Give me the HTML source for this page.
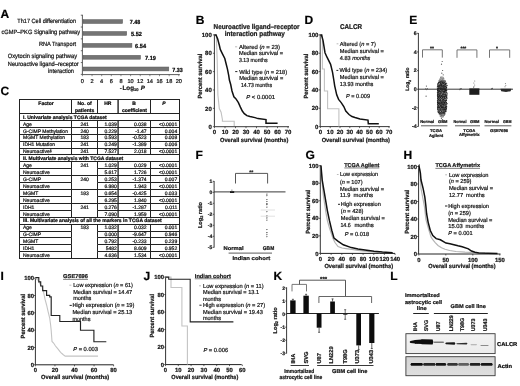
<!DOCTYPE html>
<html><head><meta charset="utf-8"><title>Figure</title>
<style>
html,body{margin:0;padding:0;background:#fff;}
body{width:520px;height:386px;overflow:hidden;}
svg{display:block;font-family:"Liberation Sans",Arial,Helvetica,sans-serif;}
text{stroke:#111;stroke-width:0.22px;text-rendering:geometricPrecision;}
</style></head><body>
<svg width="520" height="386" viewBox="0 0 520 386">
<rect x="0" y="0" width="520" height="386" fill="#fff"/>
<text x="0.60" y="18.30" font-size="12.0" font-weight="bold">A</text>
<text x="17.30" y="22.60" font-size="6.2" textLength="58.70" lengthAdjust="spacingAndGlyphs" fill="#1a1a1a">Th17 Cell differentiation</text>
<text x="1.40" y="34.20" font-size="6.2" textLength="78.60" lengthAdjust="spacingAndGlyphs" fill="#1a1a1a">cGMP–PKG Signaling pathway</text>
<text x="38.90" y="45.60" font-size="6.2" textLength="37.20" lengthAdjust="spacingAndGlyphs" fill="#1a1a1a">RNA Transport</text>
<text x="7.80" y="57.90" font-size="6.2" textLength="69.20" lengthAdjust="spacingAndGlyphs" fill="#1a1a1a">Oxytocin signaling pathway</text>
<text x="7.80" y="66.30" font-size="6.2" textLength="70.90" lengthAdjust="spacingAndGlyphs" fill="#1a1a1a">Neuroactive ligand–receptor</text>
<text x="48.10" y="73.20" font-size="6.2" textLength="25.90" lengthAdjust="spacingAndGlyphs" fill="#1a1a1a">interaction</text>
<line x1="82.40" y1="14.80" x2="82.40" y2="74.60" stroke="#333" stroke-width="0.8"/>
<line x1="80.80" y1="15.20" x2="82.40" y2="15.20" stroke="#333" stroke-width="0.7"/>
<line x1="80.80" y1="27.04" x2="82.40" y2="27.04" stroke="#333" stroke-width="0.7"/>
<line x1="80.80" y1="38.88" x2="82.40" y2="38.88" stroke="#333" stroke-width="0.7"/>
<line x1="80.80" y1="50.72" x2="82.40" y2="50.72" stroke="#333" stroke-width="0.7"/>
<line x1="80.80" y1="62.56" x2="82.40" y2="62.56" stroke="#333" stroke-width="0.7"/>
<line x1="80.80" y1="74.40" x2="82.40" y2="74.40" stroke="#333" stroke-width="0.7"/>
<line x1="82.40" y1="74.60" x2="179.80" y2="74.60" stroke="#333" stroke-width="0.8"/>
<rect x="83.00" y="19.60" width="39.60" height="3.90" fill="#747474" stroke="#5a5a5a" stroke-width="0.5"/>
<text x="129.70" y="24.12" font-size="5.9" font-weight="bold" textLength="10.50" lengthAdjust="spacingAndGlyphs">7.48</text>
<rect x="83.00" y="31.50" width="43.70" height="3.90" fill="#747474" stroke="#5a5a5a" stroke-width="0.5"/>
<text x="131.00" y="36.02" font-size="5.9" font-weight="bold" textLength="10.90" lengthAdjust="spacingAndGlyphs">5.52</text>
<rect x="83.00" y="43.40" width="48.90" height="3.90" fill="#747474" stroke="#5a5a5a" stroke-width="0.5"/>
<text x="135.10" y="47.62" font-size="5.9" font-weight="bold" textLength="10.90" lengthAdjust="spacingAndGlyphs">6.54</text>
<rect x="83.00" y="55.30" width="57.50" height="3.90" fill="#747474" stroke="#5a5a5a" stroke-width="0.5"/>
<text x="145.00" y="59.72" font-size="5.9" font-weight="bold" textLength="10.90" lengthAdjust="spacingAndGlyphs">7.19</text>
<rect x="83.00" y="67.00" width="85.80" height="3.90" fill="#747474" stroke="#5a5a5a" stroke-width="0.5"/>
<text x="172.20" y="71.62" font-size="5.9" font-weight="bold" textLength="10.50" lengthAdjust="spacingAndGlyphs">7.33</text>
<line x1="82.40" y1="74.60" x2="82.40" y2="76.20" stroke="#444" stroke-width="0.6"/>
<text x="82.40" y="83.22" font-size="5.6" text-anchor="middle" fill="#1a1a1a">0</text>
<line x1="92.04" y1="74.60" x2="92.04" y2="76.20" stroke="#444" stroke-width="0.6"/>
<text x="92.04" y="83.22" font-size="5.6" text-anchor="middle" fill="#1a1a1a">2</text>
<line x1="101.68" y1="74.60" x2="101.68" y2="76.20" stroke="#444" stroke-width="0.6"/>
<text x="101.68" y="83.22" font-size="5.6" text-anchor="middle" fill="#1a1a1a">4</text>
<line x1="111.32" y1="74.60" x2="111.32" y2="76.20" stroke="#444" stroke-width="0.6"/>
<text x="111.32" y="83.22" font-size="5.6" text-anchor="middle" fill="#1a1a1a">6</text>
<line x1="120.96" y1="74.60" x2="120.96" y2="76.20" stroke="#444" stroke-width="0.6"/>
<text x="120.96" y="83.22" font-size="5.6" text-anchor="middle" fill="#1a1a1a">8</text>
<line x1="130.60" y1="74.60" x2="130.60" y2="76.20" stroke="#444" stroke-width="0.6"/>
<text x="130.60" y="83.22" font-size="5.6" text-anchor="middle" fill="#1a1a1a">10</text>
<line x1="140.24" y1="74.60" x2="140.24" y2="76.20" stroke="#444" stroke-width="0.6"/>
<text x="140.24" y="83.22" font-size="5.6" text-anchor="middle" fill="#1a1a1a">12</text>
<line x1="149.88" y1="74.60" x2="149.88" y2="76.20" stroke="#444" stroke-width="0.6"/>
<text x="149.88" y="83.22" font-size="5.6" text-anchor="middle" fill="#1a1a1a">14</text>
<line x1="159.52" y1="74.60" x2="159.52" y2="76.20" stroke="#444" stroke-width="0.6"/>
<text x="159.52" y="83.22" font-size="5.6" text-anchor="middle" fill="#1a1a1a">16</text>
<line x1="169.16" y1="74.60" x2="169.16" y2="76.20" stroke="#444" stroke-width="0.6"/>
<text x="169.16" y="83.22" font-size="5.6" text-anchor="middle" fill="#1a1a1a">18</text>
<line x1="178.80" y1="74.60" x2="178.80" y2="76.20" stroke="#444" stroke-width="0.6"/>
<text x="178.80" y="83.22" font-size="5.6" text-anchor="middle" fill="#1a1a1a">20</text>
<text x="119.8" y="89.6" font-size="6.3" font-weight="bold" fill="#1a1a1a">-<tspan dx="0.6">Log</tspan><tspan font-size="4.0" dy="1.5">10</tspan><tspan dy="-1.5" dx="0.4" font-style="italic"> P</tspan></text>
<text x="0.60" y="94.80" font-size="12.0" font-weight="bold">C</text>
<text x="46.00" y="105.00" font-size="5.0" font-weight="bold" text-anchor="middle">Factor</text>
<text x="84.60" y="105.20" font-size="5.0" font-weight="bold" text-anchor="middle">No. of</text>
<text x="84.60" y="112.00" font-size="5.0" font-weight="bold" text-anchor="middle">patients</text>
<text x="107.80" y="105.20" font-size="5.0" font-weight="bold" text-anchor="middle">HR</text>
<text x="134.00" y="105.20" font-size="5.0" font-weight="bold" text-anchor="middle">B</text>
<text x="134.50" y="112.00" font-size="5.0" font-weight="bold" text-anchor="middle">coefficient</text>
<text x="164.00" y="105.20" font-size="5.0" font-weight="bold" font-style="italic" text-anchor="middle">P</text>
<line x1="19.00" y1="99.50" x2="180.00" y2="99.50" stroke="#222" stroke-width="1.2"/>
<line x1="19.00" y1="258.50" x2="180.00" y2="258.50" stroke="#222" stroke-width="1.1"/>
<line x1="19.50" y1="99.50" x2="19.50" y2="258.50" stroke="#222" stroke-width="1.0"/>
<line x1="179.50" y1="99.50" x2="179.50" y2="258.50" stroke="#222" stroke-width="1.0"/>
<line x1="19.50" y1="113.50" x2="179.50" y2="113.50" stroke="#222" stroke-width="1.1"/>
<line x1="71.50" y1="99.50" x2="71.50" y2="113.50" stroke="#222" stroke-width="1.0"/>
<line x1="97.50" y1="99.50" x2="97.50" y2="113.50" stroke="#222" stroke-width="1.0"/>
<line x1="118.10" y1="99.50" x2="118.10" y2="113.50" stroke="#222" stroke-width="1.4"/>
<line x1="150.50" y1="99.50" x2="150.50" y2="113.50" stroke="#222" stroke-width="1.0"/>
<line x1="19.50" y1="120.50" x2="179.50" y2="120.50" stroke="#222" stroke-width="1.0"/>
<text x="23.00" y="118.70" font-size="5.0" font-weight="bold">I. Univariate analysis TCGA dataset</text>
<line x1="19.50" y1="127.50" x2="179.50" y2="127.50" stroke="#222" stroke-width="1.0"/>
<line x1="71.50" y1="120.50" x2="71.50" y2="127.50" stroke="#222" stroke-width="1.0"/>
<line x1="97.50" y1="120.50" x2="97.50" y2="127.50" stroke="#222" stroke-width="1.0"/>
<line x1="118.10" y1="120.50" x2="118.10" y2="127.50" stroke="#222" stroke-width="1.3"/>
<line x1="150.50" y1="120.50" x2="150.50" y2="127.50" stroke="#222" stroke-width="1.0"/>
<text x="23.00" y="125.61" font-size="5.0" fill="#1a1a1a">Age</text>
<text x="84.60" y="125.61" font-size="5.0" text-anchor="middle" fill="#1a1a1a">241</text>
<text x="116.90" y="125.61" font-size="5.0" text-anchor="end" fill="#1a1a1a">1.039</text>
<text x="146.60" y="125.61" font-size="5.0" text-anchor="end" fill="#1a1a1a">0.038</text>
<text x="177.20" y="125.61" font-size="5.0" text-anchor="end" fill="#1a1a1a">&lt;0.0001</text>
<line x1="19.50" y1="134.50" x2="179.50" y2="134.50" stroke="#222" stroke-width="1.0"/>
<line x1="71.50" y1="127.50" x2="71.50" y2="134.50" stroke="#222" stroke-width="1.0"/>
<line x1="97.50" y1="127.50" x2="97.50" y2="134.50" stroke="#222" stroke-width="1.0"/>
<line x1="118.10" y1="127.50" x2="118.10" y2="134.50" stroke="#222" stroke-width="1.3"/>
<line x1="150.50" y1="127.50" x2="150.50" y2="134.50" stroke="#222" stroke-width="1.0"/>
<text x="23.00" y="132.53" font-size="5.0" fill="#1a1a1a">G-CIMP Methylation</text>
<text x="84.60" y="132.53" font-size="5.0" text-anchor="middle" fill="#1a1a1a">240</text>
<text x="116.90" y="132.53" font-size="5.0" text-anchor="end" fill="#1a1a1a">0.229</text>
<text x="146.60" y="132.53" font-size="5.0" text-anchor="end" fill="#1a1a1a">-1.47</text>
<text x="177.20" y="132.53" font-size="5.0" text-anchor="end" fill="#1a1a1a">0.004</text>
<line x1="19.50" y1="141.50" x2="179.50" y2="141.50" stroke="#222" stroke-width="1.0"/>
<line x1="71.50" y1="134.50" x2="71.50" y2="141.50" stroke="#222" stroke-width="1.0"/>
<line x1="97.50" y1="134.50" x2="97.50" y2="141.50" stroke="#222" stroke-width="1.0"/>
<line x1="118.10" y1="134.50" x2="118.10" y2="141.50" stroke="#222" stroke-width="1.3"/>
<line x1="150.50" y1="134.50" x2="150.50" y2="141.50" stroke="#222" stroke-width="1.0"/>
<text x="23.00" y="139.44" font-size="5.0" fill="#1a1a1a">MGMT Methylation</text>
<text x="84.60" y="139.44" font-size="5.0" text-anchor="middle" fill="#1a1a1a">183</text>
<text x="116.90" y="139.44" font-size="5.0" text-anchor="end" fill="#1a1a1a">0.593</text>
<text x="146.60" y="139.44" font-size="5.0" text-anchor="end" fill="#1a1a1a">-0.523</text>
<text x="177.20" y="139.44" font-size="5.0" text-anchor="end" fill="#1a1a1a">0.008</text>
<line x1="19.50" y1="148.50" x2="179.50" y2="148.50" stroke="#222" stroke-width="1.0"/>
<line x1="71.50" y1="141.50" x2="71.50" y2="148.50" stroke="#222" stroke-width="1.0"/>
<line x1="97.50" y1="141.50" x2="97.50" y2="148.50" stroke="#222" stroke-width="1.0"/>
<line x1="118.10" y1="141.50" x2="118.10" y2="148.50" stroke="#222" stroke-width="1.3"/>
<line x1="150.50" y1="141.50" x2="150.50" y2="148.50" stroke="#222" stroke-width="1.0"/>
<text x="23.00" y="146.36" font-size="5.0" fill="#1a1a1a">IDH1 Mutation</text>
<text x="84.60" y="146.36" font-size="5.0" text-anchor="middle" fill="#1a1a1a">241</text>
<text x="116.90" y="146.36" font-size="5.0" text-anchor="end" fill="#1a1a1a">0.249</text>
<text x="146.60" y="146.36" font-size="5.0" text-anchor="end" fill="#1a1a1a">-1.389</text>
<text x="177.20" y="146.36" font-size="5.0" text-anchor="end" fill="#1a1a1a">0.006</text>
<line x1="19.50" y1="154.50" x2="179.50" y2="154.50" stroke="#222" stroke-width="1.0"/>
<line x1="71.50" y1="148.50" x2="71.50" y2="154.50" stroke="#222" stroke-width="1.0"/>
<line x1="97.50" y1="148.50" x2="97.50" y2="154.50" stroke="#222" stroke-width="1.0"/>
<line x1="118.10" y1="148.50" x2="118.10" y2="154.50" stroke="#222" stroke-width="1.3"/>
<line x1="150.50" y1="148.50" x2="150.50" y2="154.50" stroke="#222" stroke-width="1.0"/>
<text x="23.00" y="153.27" font-size="5.0" fill="#1a1a1a">Neuroactive<tspan font-size="3.4" dy="-1.5">§</tspan></text>
<text x="84.60" y="153.27" font-size="5.0" text-anchor="middle" fill="#1a1a1a">241</text>
<text x="116.90" y="153.27" font-size="5.0" text-anchor="end" fill="#1a1a1a">7.527</text>
<text x="146.60" y="153.27" font-size="5.0" text-anchor="end" fill="#1a1a1a">2.018</text>
<text x="177.20" y="153.27" font-size="5.0" text-anchor="end" fill="#1a1a1a">&lt;0.0001</text>
<line x1="19.50" y1="161.50" x2="179.50" y2="161.50" stroke="#222" stroke-width="1.0"/>
<text x="23.00" y="160.19" font-size="5.0" font-weight="bold">II. Multivariate analysis with TCGA dataset</text>
<line x1="19.50" y1="168.50" x2="71.50" y2="168.50" stroke="#222" stroke-width="1.0"/>
<line x1="97.50" y1="168.50" x2="179.50" y2="168.50" stroke="#222" stroke-width="1.0"/>
<line x1="71.50" y1="161.50" x2="71.50" y2="168.50" stroke="#222" stroke-width="1.0"/>
<line x1="97.50" y1="161.50" x2="97.50" y2="168.50" stroke="#222" stroke-width="1.0"/>
<line x1="118.10" y1="161.50" x2="118.10" y2="168.50" stroke="#222" stroke-width="1.3"/>
<line x1="150.50" y1="161.50" x2="150.50" y2="168.50" stroke="#222" stroke-width="1.0"/>
<text x="23.00" y="167.10" font-size="5.0" fill="#1a1a1a">Age</text>
<text x="84.60" y="167.10" font-size="5.0" text-anchor="middle" fill="#1a1a1a">241</text>
<text x="116.90" y="167.10" font-size="5.0" text-anchor="end" fill="#1a1a1a">1.029</text>
<text x="146.60" y="167.10" font-size="5.0" text-anchor="end" fill="#1a1a1a">0.029</text>
<text x="177.20" y="167.10" font-size="5.0" text-anchor="end" fill="#1a1a1a">&lt;0.0001</text>
<line x1="19.50" y1="175.50" x2="179.50" y2="175.50" stroke="#222" stroke-width="1.0"/>
<line x1="71.50" y1="168.50" x2="71.50" y2="175.50" stroke="#222" stroke-width="1.0"/>
<line x1="97.50" y1="168.50" x2="97.50" y2="175.50" stroke="#222" stroke-width="1.0"/>
<line x1="118.10" y1="168.50" x2="118.10" y2="175.50" stroke="#222" stroke-width="1.3"/>
<line x1="150.50" y1="168.50" x2="150.50" y2="175.50" stroke="#222" stroke-width="1.0"/>
<text x="23.00" y="174.01" font-size="5.0" fill="#1a1a1a">Neuroactive</text>
<text x="116.90" y="174.01" font-size="5.0" text-anchor="end" fill="#1a1a1a">5.617</text>
<text x="146.60" y="174.01" font-size="5.0" text-anchor="end" fill="#1a1a1a">1.726</text>
<text x="177.20" y="174.01" font-size="5.0" text-anchor="end" fill="#1a1a1a">&lt;0.0001</text>
<line x1="19.50" y1="182.50" x2="71.50" y2="182.50" stroke="#222" stroke-width="1.0"/>
<line x1="97.50" y1="182.50" x2="179.50" y2="182.50" stroke="#222" stroke-width="1.0"/>
<line x1="71.50" y1="175.50" x2="71.50" y2="182.50" stroke="#222" stroke-width="1.0"/>
<line x1="97.50" y1="175.50" x2="97.50" y2="182.50" stroke="#222" stroke-width="1.0"/>
<line x1="118.10" y1="175.50" x2="118.10" y2="182.50" stroke="#222" stroke-width="1.3"/>
<line x1="150.50" y1="175.50" x2="150.50" y2="182.50" stroke="#222" stroke-width="1.0"/>
<text x="23.00" y="180.93" font-size="5.0" fill="#1a1a1a">G-CIMP</text>
<text x="84.60" y="180.93" font-size="5.0" text-anchor="middle" fill="#1a1a1a">240</text>
<text x="116.90" y="180.93" font-size="5.0" text-anchor="end" fill="#1a1a1a">0.253</text>
<text x="146.60" y="180.93" font-size="5.0" text-anchor="end" fill="#1a1a1a">-1.374</text>
<text x="177.20" y="180.93" font-size="5.0" text-anchor="end" fill="#1a1a1a">0.007</text>
<line x1="19.50" y1="189.50" x2="179.50" y2="189.50" stroke="#222" stroke-width="1.0"/>
<line x1="71.50" y1="182.50" x2="71.50" y2="189.50" stroke="#222" stroke-width="1.0"/>
<line x1="97.50" y1="182.50" x2="97.50" y2="189.50" stroke="#222" stroke-width="1.0"/>
<line x1="118.10" y1="182.50" x2="118.10" y2="189.50" stroke="#222" stroke-width="1.3"/>
<line x1="150.50" y1="182.50" x2="150.50" y2="189.50" stroke="#222" stroke-width="1.0"/>
<text x="23.00" y="187.84" font-size="5.0" fill="#1a1a1a">Neuroactive</text>
<text x="116.90" y="187.84" font-size="5.0" text-anchor="end" fill="#1a1a1a">6.980</text>
<text x="146.60" y="187.84" font-size="5.0" text-anchor="end" fill="#1a1a1a">1.943</text>
<text x="177.20" y="187.84" font-size="5.0" text-anchor="end" fill="#1a1a1a">&lt;0.0001</text>
<line x1="19.50" y1="196.50" x2="71.50" y2="196.50" stroke="#222" stroke-width="1.0"/>
<line x1="97.50" y1="196.50" x2="179.50" y2="196.50" stroke="#222" stroke-width="1.0"/>
<line x1="71.50" y1="189.50" x2="71.50" y2="196.50" stroke="#222" stroke-width="1.0"/>
<line x1="97.50" y1="189.50" x2="97.50" y2="196.50" stroke="#222" stroke-width="1.0"/>
<line x1="118.10" y1="189.50" x2="118.10" y2="196.50" stroke="#222" stroke-width="1.3"/>
<line x1="150.50" y1="189.50" x2="150.50" y2="196.50" stroke="#222" stroke-width="1.0"/>
<text x="23.00" y="194.76" font-size="5.0" fill="#1a1a1a">MGMT</text>
<text x="84.60" y="194.76" font-size="5.0" text-anchor="middle" fill="#1a1a1a">183</text>
<text x="116.90" y="194.76" font-size="5.0" text-anchor="end" fill="#1a1a1a">0.654</text>
<text x="146.60" y="194.76" font-size="5.0" text-anchor="end" fill="#1a1a1a">-0.425</text>
<text x="177.20" y="194.76" font-size="5.0" text-anchor="end" fill="#1a1a1a">0.033</text>
<line x1="19.50" y1="203.50" x2="179.50" y2="203.50" stroke="#222" stroke-width="1.0"/>
<line x1="71.50" y1="196.50" x2="71.50" y2="203.50" stroke="#222" stroke-width="1.0"/>
<line x1="97.50" y1="196.50" x2="97.50" y2="203.50" stroke="#222" stroke-width="1.0"/>
<line x1="118.10" y1="196.50" x2="118.10" y2="203.50" stroke="#222" stroke-width="1.3"/>
<line x1="150.50" y1="196.50" x2="150.50" y2="203.50" stroke="#222" stroke-width="1.0"/>
<text x="23.00" y="201.67" font-size="5.0" fill="#1a1a1a">Neuroactive</text>
<text x="116.90" y="201.67" font-size="5.0" text-anchor="end" fill="#1a1a1a">6.295</text>
<text x="146.60" y="201.67" font-size="5.0" text-anchor="end" fill="#1a1a1a">1.840</text>
<text x="177.20" y="201.67" font-size="5.0" text-anchor="end" fill="#1a1a1a">&lt;0.0001</text>
<line x1="19.50" y1="210.50" x2="71.50" y2="210.50" stroke="#222" stroke-width="1.0"/>
<line x1="97.50" y1="210.50" x2="179.50" y2="210.50" stroke="#222" stroke-width="1.0"/>
<line x1="71.50" y1="203.50" x2="71.50" y2="210.50" stroke="#222" stroke-width="1.0"/>
<line x1="97.50" y1="203.50" x2="97.50" y2="210.50" stroke="#222" stroke-width="1.0"/>
<line x1="118.10" y1="203.50" x2="118.10" y2="210.50" stroke="#222" stroke-width="1.3"/>
<line x1="150.50" y1="203.50" x2="150.50" y2="210.50" stroke="#222" stroke-width="1.0"/>
<text x="23.00" y="208.59" font-size="5.0" fill="#1a1a1a">IDH1</text>
<text x="84.60" y="208.59" font-size="5.0" text-anchor="middle" fill="#1a1a1a">241</text>
<text x="116.90" y="208.59" font-size="5.0" text-anchor="end" fill="#1a1a1a">0.276</text>
<text x="146.60" y="208.59" font-size="5.0" text-anchor="end" fill="#1a1a1a">-1.287</text>
<text x="177.20" y="208.59" font-size="5.0" text-anchor="end" fill="#1a1a1a">0.011</text>
<line x1="19.50" y1="217.50" x2="179.50" y2="217.50" stroke="#222" stroke-width="1.0"/>
<line x1="71.50" y1="210.50" x2="71.50" y2="217.50" stroke="#222" stroke-width="1.0"/>
<line x1="97.50" y1="210.50" x2="97.50" y2="217.50" stroke="#222" stroke-width="1.0"/>
<line x1="118.10" y1="210.50" x2="118.10" y2="217.50" stroke="#222" stroke-width="1.3"/>
<line x1="150.50" y1="210.50" x2="150.50" y2="217.50" stroke="#222" stroke-width="1.0"/>
<text x="23.00" y="215.50" font-size="5.0" fill="#1a1a1a">Neuroactive</text>
<text x="116.90" y="215.50" font-size="5.0" text-anchor="end" fill="#1a1a1a">7.090</text>
<text x="146.60" y="215.50" font-size="5.0" text-anchor="end" fill="#1a1a1a">1.959</text>
<text x="177.20" y="215.50" font-size="5.0" text-anchor="end" fill="#1a1a1a">&lt;0.0001</text>
<line x1="19.50" y1="224.50" x2="179.50" y2="224.50" stroke="#222" stroke-width="1.0"/>
<text x="23.00" y="222.41" font-size="5.0" font-weight="bold">III. Multivariate analysis of all the markers in TCGA dataset</text>
<line x1="19.50" y1="231.50" x2="71.50" y2="231.50" stroke="#222" stroke-width="1.0"/>
<line x1="97.50" y1="231.50" x2="179.50" y2="231.50" stroke="#222" stroke-width="1.0"/>
<line x1="71.50" y1="224.50" x2="71.50" y2="231.50" stroke="#222" stroke-width="1.0"/>
<line x1="97.50" y1="224.50" x2="97.50" y2="231.50" stroke="#222" stroke-width="1.0"/>
<line x1="118.10" y1="224.50" x2="118.10" y2="231.50" stroke="#222" stroke-width="1.3"/>
<line x1="150.50" y1="224.50" x2="150.50" y2="231.50" stroke="#222" stroke-width="1.0"/>
<text x="23.00" y="229.33" font-size="5.0" fill="#1a1a1a">Age</text>
<text x="84.60" y="229.33" font-size="5.0" text-anchor="middle" fill="#1a1a1a">183</text>
<text x="116.90" y="229.33" font-size="5.0" text-anchor="end" fill="#1a1a1a">1.032</text>
<text x="146.60" y="229.33" font-size="5.0" text-anchor="end" fill="#1a1a1a">0.032</text>
<text x="177.20" y="229.33" font-size="5.0" text-anchor="end" fill="#1a1a1a">0.001</text>
<line x1="19.50" y1="237.50" x2="71.50" y2="237.50" stroke="#222" stroke-width="1.0"/>
<line x1="97.50" y1="237.50" x2="179.50" y2="237.50" stroke="#222" stroke-width="1.0"/>
<line x1="71.50" y1="231.50" x2="71.50" y2="237.50" stroke="#222" stroke-width="1.0"/>
<line x1="97.50" y1="231.50" x2="97.50" y2="237.50" stroke="#222" stroke-width="1.0"/>
<line x1="118.10" y1="231.50" x2="118.10" y2="237.50" stroke="#222" stroke-width="1.3"/>
<line x1="150.50" y1="231.50" x2="150.50" y2="237.50" stroke="#222" stroke-width="1.0"/>
<text x="23.00" y="236.24" font-size="5.0" fill="#1a1a1a">G-CIMP</text>
<text x="116.90" y="236.24" font-size="5.0" text-anchor="end" fill="#1a1a1a">0.000</text>
<text x="146.60" y="236.24" font-size="5.0" text-anchor="end" fill="#1a1a1a">-9.647</text>
<text x="177.20" y="236.24" font-size="5.0" text-anchor="end" fill="#1a1a1a">0.946</text>
<line x1="19.50" y1="244.50" x2="71.50" y2="244.50" stroke="#222" stroke-width="1.0"/>
<line x1="97.50" y1="244.50" x2="179.50" y2="244.50" stroke="#222" stroke-width="1.0"/>
<line x1="71.50" y1="237.50" x2="71.50" y2="244.50" stroke="#222" stroke-width="1.0"/>
<line x1="97.50" y1="237.50" x2="97.50" y2="244.50" stroke="#222" stroke-width="1.0"/>
<line x1="118.10" y1="237.50" x2="118.10" y2="244.50" stroke="#222" stroke-width="1.3"/>
<line x1="150.50" y1="237.50" x2="150.50" y2="244.50" stroke="#222" stroke-width="1.0"/>
<text x="23.00" y="243.16" font-size="5.0" fill="#1a1a1a">MGMT</text>
<text x="116.90" y="243.16" font-size="5.0" text-anchor="end" fill="#1a1a1a">0.792</text>
<text x="146.60" y="243.16" font-size="5.0" text-anchor="end" fill="#1a1a1a">-0.233</text>
<text x="177.20" y="243.16" font-size="5.0" text-anchor="end" fill="#1a1a1a">0.239</text>
<line x1="19.50" y1="251.50" x2="71.50" y2="251.50" stroke="#222" stroke-width="1.0"/>
<line x1="97.50" y1="251.50" x2="179.50" y2="251.50" stroke="#222" stroke-width="1.0"/>
<line x1="71.50" y1="244.50" x2="71.50" y2="251.50" stroke="#222" stroke-width="1.0"/>
<line x1="97.50" y1="244.50" x2="97.50" y2="251.50" stroke="#222" stroke-width="1.0"/>
<line x1="118.10" y1="244.50" x2="118.10" y2="251.50" stroke="#222" stroke-width="1.3"/>
<line x1="150.50" y1="244.50" x2="150.50" y2="251.50" stroke="#222" stroke-width="1.0"/>
<text x="23.00" y="250.07" font-size="5.0" fill="#1a1a1a">IDH1</text>
<text x="116.90" y="250.07" font-size="5.0" text-anchor="end" fill="#1a1a1a">5482</text>
<text x="146.60" y="250.07" font-size="5.0" text-anchor="end" fill="#1a1a1a">8.609</text>
<text x="177.20" y="250.07" font-size="5.0" text-anchor="end" fill="#1a1a1a">0.952</text>
<line x1="71.50" y1="251.50" x2="71.50" y2="258.50" stroke="#222" stroke-width="1.0"/>
<line x1="97.50" y1="251.50" x2="97.50" y2="258.50" stroke="#222" stroke-width="1.0"/>
<line x1="118.10" y1="251.50" x2="118.10" y2="258.50" stroke="#222" stroke-width="1.3"/>
<line x1="150.50" y1="251.50" x2="150.50" y2="258.50" stroke="#222" stroke-width="1.0"/>
<text x="23.00" y="256.99" font-size="5.0" fill="#1a1a1a">Neuroactive</text>
<text x="116.90" y="256.99" font-size="5.0" text-anchor="end" fill="#1a1a1a">4.636</text>
<text x="146.60" y="256.99" font-size="5.0" text-anchor="end" fill="#1a1a1a">1.534</text>
<text x="177.20" y="256.99" font-size="5.0" text-anchor="end" fill="#1a1a1a">&lt;0.0001</text>
<text x="195.80" y="23.90" font-size="12.0" font-weight="bold">B</text>
<text x="213.60" y="28.60" font-size="7.0" font-weight="bold" textLength="86.00" lengthAdjust="spacingAndGlyphs" fill="#1a1a1a">Neuroactive ligand–receptor</text>
<text x="224.80" y="36.40" font-size="7.0" font-weight="bold" textLength="60.00" lengthAdjust="spacingAndGlyphs" fill="#1a1a1a">interaction pathway</text>
<line x1="214.40" y1="34.40" x2="214.40" y2="126.70" stroke="#222" stroke-width="0.9"/>
<line x1="212.90" y1="34.90" x2="214.40" y2="34.90" stroke="#222" stroke-width="0.7"/>
<text x="211.80" y="37.06" font-size="6.0" font-weight="bold" text-anchor="end" fill="#1a1a1a">100</text>
<line x1="212.90" y1="53.26" x2="214.40" y2="53.26" stroke="#222" stroke-width="0.7"/>
<text x="211.80" y="55.42" font-size="6.0" font-weight="bold" text-anchor="end" fill="#1a1a1a">80</text>
<line x1="212.90" y1="71.62" x2="214.40" y2="71.62" stroke="#222" stroke-width="0.7"/>
<text x="211.80" y="73.78" font-size="6.0" font-weight="bold" text-anchor="end" fill="#1a1a1a">60</text>
<line x1="212.90" y1="89.98" x2="214.40" y2="89.98" stroke="#222" stroke-width="0.7"/>
<text x="211.80" y="92.14" font-size="6.0" font-weight="bold" text-anchor="end" fill="#1a1a1a">40</text>
<line x1="212.90" y1="108.34" x2="214.40" y2="108.34" stroke="#222" stroke-width="0.7"/>
<text x="211.80" y="110.50" font-size="6.0" font-weight="bold" text-anchor="end" fill="#1a1a1a">20</text>
<line x1="212.90" y1="126.70" x2="214.40" y2="126.70" stroke="#222" stroke-width="0.7"/>
<text x="211.80" y="128.86" font-size="6.0" font-weight="bold" text-anchor="end" fill="#1a1a1a">0</text>
<line x1="214.40" y1="126.70" x2="289.00" y2="126.70" stroke="#222" stroke-width="0.9"/>
<line x1="214.50" y1="126.70" x2="214.50" y2="128.20" stroke="#222" stroke-width="0.7"/>
<text x="214.50" y="133.96" font-size="6.0" font-weight="bold" text-anchor="middle" fill="#1a1a1a">0</text>
<line x1="225.00" y1="126.70" x2="225.00" y2="128.20" stroke="#222" stroke-width="0.7"/>
<text x="225.00" y="133.96" font-size="6.0" font-weight="bold" text-anchor="middle" fill="#1a1a1a">10</text>
<line x1="235.50" y1="126.70" x2="235.50" y2="128.20" stroke="#222" stroke-width="0.7"/>
<text x="235.50" y="133.96" font-size="6.0" font-weight="bold" text-anchor="middle" fill="#1a1a1a">20</text>
<line x1="246.00" y1="126.70" x2="246.00" y2="128.20" stroke="#222" stroke-width="0.7"/>
<text x="246.00" y="133.96" font-size="6.0" font-weight="bold" text-anchor="middle" fill="#1a1a1a">30</text>
<line x1="256.50" y1="126.70" x2="256.50" y2="128.20" stroke="#222" stroke-width="0.7"/>
<text x="256.50" y="133.96" font-size="6.0" font-weight="bold" text-anchor="middle" fill="#1a1a1a">40</text>
<line x1="267.00" y1="126.70" x2="267.00" y2="128.20" stroke="#222" stroke-width="0.7"/>
<text x="267.00" y="133.96" font-size="6.0" font-weight="bold" text-anchor="middle" fill="#1a1a1a">50</text>
<line x1="277.50" y1="126.70" x2="277.50" y2="128.20" stroke="#222" stroke-width="0.7"/>
<text x="277.50" y="133.96" font-size="6.0" font-weight="bold" text-anchor="middle" fill="#1a1a1a">60</text>
<line x1="288.00" y1="126.70" x2="288.00" y2="128.20" stroke="#222" stroke-width="0.7"/>
<text x="288.00" y="133.96" font-size="6.0" font-weight="bold" text-anchor="middle" fill="#1a1a1a">70</text>
<text x="202.40" y="98.60" font-size="6.0" font-weight="bold" textLength="45.00" lengthAdjust="spacingAndGlyphs" fill="#1a1a1a" transform="rotate(-90 202.40 98.60)">Percent survival</text>
<text x="220.00" y="141.58" font-size="6.0" font-weight="bold" textLength="68.30" lengthAdjust="spacingAndGlyphs" fill="#1a1a1a">Overall survival (months)</text>
<path d="M214.40 34.90 L216.30 34.90 L217.20 60.00 L217.90 95.00 L219.30 108.60 L221.10 112.20 L222.40 119.50 L222.40 121.30 L234.20 121.30 L234.20 126.00" stroke="#c0c0c0" stroke-width="1.1" fill="none" stroke-linejoin="miter"/>
<path d="M214.40 34.90 L216.00 34.90 L217.70 39.00 L219.40 45.50 L220.30 49.40 L222.20 53.30 L224.80 58.50 L226.10 63.70 L227.40 68.90 L228.70 75.30 L229.40 80.00 L230.70 84.50 L232.00 91.00 L233.90 96.80 L235.80 98.70 L238.40 102.60 L240.40 107.10 L242.30 111.00 L244.30 113.60 L246.90 115.60 L250.00 116.50 L255.00 117.60 L258.00 118.60 L266.00 119.60 L266.00 123.20 L277.60 123.20" stroke="#111" stroke-width="1.5" fill="none" stroke-linejoin="miter"/>
<line x1="235.00" y1="46.80" x2="237.20" y2="46.80" stroke="#aaa" stroke-width="0.8"/>
<text x="239.00" y="48.71" font-size="5.8" textLength="41.00" lengthAdjust="spacingAndGlyphs" fill="#1a1a1a">Altered (<tspan font-style="italic">n</tspan> = 23)</text>
<text x="239.00" y="55.41" font-size="5.8" textLength="44.00" lengthAdjust="spacingAndGlyphs" fill="#1a1a1a">Median survival =</text>
<text x="239.00" y="62.01" font-size="5.8" textLength="28.50" lengthAdjust="spacingAndGlyphs" fill="#1a1a1a">3.13 months</text>
<line x1="235.20" y1="71.60" x2="237.40" y2="71.60" stroke="#222" stroke-width="1.0"/>
<text x="239.20" y="73.51" font-size="5.8" textLength="48.00" lengthAdjust="spacingAndGlyphs" fill="#1a1a1a">Wild type (<tspan font-style="italic">n</tspan> = 218)</text>
<text x="239.20" y="80.21" font-size="5.8" textLength="44.00" lengthAdjust="spacingAndGlyphs" fill="#1a1a1a">Median survival =</text>
<text x="241.00" y="86.81" font-size="5.8" textLength="31.00" lengthAdjust="spacingAndGlyphs" fill="#1a1a1a">14.73 months</text>
<text x="246.20" y="98.71" font-size="5.8" textLength="28.80" lengthAdjust="spacingAndGlyphs" fill="#1a1a1a"><tspan font-style="italic">P</tspan>  &lt; 0.0001</text>
<text x="304.40" y="24.10" font-size="12.0" font-weight="bold">D</text>
<text x="340.00" y="29.30" font-size="7.0" font-weight="bold" textLength="22.10" lengthAdjust="spacingAndGlyphs" fill="#1a1a1a">CALCR</text>
<line x1="320.20" y1="34.40" x2="320.20" y2="126.60" stroke="#222" stroke-width="0.9"/>
<line x1="318.70" y1="34.90" x2="320.20" y2="34.90" stroke="#222" stroke-width="0.7"/>
<text x="318.40" y="37.06" font-size="6.0" font-weight="bold" text-anchor="end" fill="#1a1a1a">100</text>
<line x1="318.70" y1="53.24" x2="320.20" y2="53.24" stroke="#222" stroke-width="0.7"/>
<text x="318.40" y="55.40" font-size="6.0" font-weight="bold" text-anchor="end" fill="#1a1a1a">80</text>
<line x1="318.70" y1="71.58" x2="320.20" y2="71.58" stroke="#222" stroke-width="0.7"/>
<text x="318.40" y="73.74" font-size="6.0" font-weight="bold" text-anchor="end" fill="#1a1a1a">60</text>
<line x1="318.70" y1="89.92" x2="320.20" y2="89.92" stroke="#222" stroke-width="0.7"/>
<text x="318.40" y="92.08" font-size="6.0" font-weight="bold" text-anchor="end" fill="#1a1a1a">40</text>
<line x1="318.70" y1="108.26" x2="320.20" y2="108.26" stroke="#222" stroke-width="0.7"/>
<text x="318.40" y="110.42" font-size="6.0" font-weight="bold" text-anchor="end" fill="#1a1a1a">20</text>
<line x1="318.70" y1="126.60" x2="320.20" y2="126.60" stroke="#222" stroke-width="0.7"/>
<text x="318.40" y="128.76" font-size="6.0" font-weight="bold" text-anchor="end" fill="#1a1a1a">0</text>
<line x1="320.20" y1="126.60" x2="389.70" y2="126.60" stroke="#222" stroke-width="0.9"/>
<line x1="320.40" y1="126.60" x2="320.40" y2="128.10" stroke="#222" stroke-width="0.7"/>
<text x="320.40" y="133.86" font-size="6.0" font-weight="bold" text-anchor="middle" fill="#1a1a1a">0</text>
<line x1="330.20" y1="126.60" x2="330.20" y2="128.10" stroke="#222" stroke-width="0.7"/>
<text x="330.20" y="133.86" font-size="6.0" font-weight="bold" text-anchor="middle" fill="#1a1a1a">10</text>
<line x1="340.00" y1="126.60" x2="340.00" y2="128.10" stroke="#222" stroke-width="0.7"/>
<text x="340.00" y="133.86" font-size="6.0" font-weight="bold" text-anchor="middle" fill="#1a1a1a">20</text>
<line x1="349.80" y1="126.60" x2="349.80" y2="128.10" stroke="#222" stroke-width="0.7"/>
<text x="349.80" y="133.86" font-size="6.0" font-weight="bold" text-anchor="middle" fill="#1a1a1a">30</text>
<line x1="359.60" y1="126.60" x2="359.60" y2="128.10" stroke="#222" stroke-width="0.7"/>
<text x="359.60" y="133.86" font-size="6.0" font-weight="bold" text-anchor="middle" fill="#1a1a1a">40</text>
<line x1="369.40" y1="126.60" x2="369.40" y2="128.10" stroke="#222" stroke-width="0.7"/>
<text x="369.40" y="133.86" font-size="6.0" font-weight="bold" text-anchor="middle" fill="#1a1a1a">50</text>
<line x1="379.20" y1="126.60" x2="379.20" y2="128.10" stroke="#222" stroke-width="0.7"/>
<text x="379.20" y="133.86" font-size="6.0" font-weight="bold" text-anchor="middle" fill="#1a1a1a">60</text>
<line x1="389.00" y1="126.60" x2="389.00" y2="128.10" stroke="#222" stroke-width="0.7"/>
<text x="389.00" y="133.86" font-size="6.0" font-weight="bold" text-anchor="middle" fill="#1a1a1a">70</text>
<text x="308.40" y="98.60" font-size="6.0" font-weight="bold" textLength="45.00" lengthAdjust="spacingAndGlyphs" fill="#1a1a1a" transform="rotate(-90 308.40 98.60)">Percent survival</text>
<text x="321.70" y="141.58" font-size="6.0" font-weight="bold" textLength="68.30" lengthAdjust="spacingAndGlyphs" fill="#1a1a1a">Overall survival (months)</text>
<path d="M320.20 34.90 L322.40 34.90 L322.40 69.00 L324.40 69.00 L324.40 91.00 L327.60 91.00 L327.60 108.80 L338.90 108.80 L338.90 126.60" stroke="#c2c2c2" stroke-width="1.1" fill="none" stroke-linejoin="miter"/>
<path d="M320.20 34.90 L321.50 35.00 L323.00 40.40 L325.00 52.70 L327.00 57.20 L330.60 64.30 L332.50 72.10 L333.80 80.00 L334.70 85.80 L336.70 94.80 L338.60 99.40 L341.20 102.60 L343.80 106.50 L345.80 111.10 L349.00 114.50 L352.00 116.50 L355.00 117.50 L360.00 119.00 L368.00 120.10 L368.30 123.70 L378.80 123.70" stroke="#111" stroke-width="1.5" fill="none" stroke-linejoin="miter"/>
<line x1="336.60" y1="43.80" x2="338.40" y2="43.80" stroke="#aaa" stroke-width="0.8"/>
<text x="339.80" y="45.71" font-size="5.8" textLength="36.00" lengthAdjust="spacingAndGlyphs" fill="#1a1a1a">Altered (<tspan font-style="italic">n</tspan> = 7)</text>
<text x="339.80" y="52.71" font-size="5.8" textLength="44.00" lengthAdjust="spacingAndGlyphs" fill="#1a1a1a">Median survival =</text>
<text x="339.80" y="59.51" font-size="5.8" textLength="30.60" lengthAdjust="spacingAndGlyphs" fill="#1a1a1a">4.83 <tspan font-style="italic">months</tspan></text>
<line x1="336.40" y1="70.40" x2="338.30" y2="70.40" stroke="#222" stroke-width="1.0"/>
<text x="339.40" y="72.31" font-size="5.8" textLength="47.80" lengthAdjust="spacingAndGlyphs" fill="#1a1a1a">Wild type (<tspan font-style="italic">n</tspan> = 234)</text>
<text x="339.80" y="78.81" font-size="5.8" textLength="44.00" lengthAdjust="spacingAndGlyphs" fill="#1a1a1a">Median survival =</text>
<text x="339.80" y="85.61" font-size="5.8" textLength="33.60" lengthAdjust="spacingAndGlyphs" fill="#1a1a1a">13.93 months</text>
<text x="346.00" y="97.51" font-size="5.8" textLength="24.00" lengthAdjust="spacingAndGlyphs" fill="#1a1a1a"><tspan font-style="italic">P</tspan> = 0.009</text>
<text x="409.30" y="24.30" font-size="12.0" font-weight="bold">E</text>
<line x1="418.40" y1="33.00" x2="418.40" y2="126.60" stroke="#222" stroke-width="0.9"/>
<line x1="417.00" y1="33.30" x2="418.40" y2="33.30" stroke="#222" stroke-width="0.7"/>
<text x="416.60" y="35.17" font-size="5.2" font-weight="bold" text-anchor="end" fill="#1a1a1a">6</text>
<line x1="417.00" y1="51.94" x2="418.40" y2="51.94" stroke="#222" stroke-width="0.7"/>
<text x="416.60" y="53.81" font-size="5.2" font-weight="bold" text-anchor="end" fill="#1a1a1a">4</text>
<line x1="417.00" y1="70.58" x2="418.40" y2="70.58" stroke="#222" stroke-width="0.7"/>
<text x="416.60" y="72.45" font-size="5.2" font-weight="bold" text-anchor="end" fill="#1a1a1a">2</text>
<line x1="417.00" y1="89.22" x2="418.40" y2="89.22" stroke="#222" stroke-width="0.7"/>
<text x="416.60" y="91.09" font-size="5.2" font-weight="bold" text-anchor="end" fill="#1a1a1a">0</text>
<line x1="417.00" y1="107.86" x2="418.40" y2="107.86" stroke="#222" stroke-width="0.7"/>
<text x="416.60" y="109.73" font-size="5.2" font-weight="bold" text-anchor="end" fill="#1a1a1a">-2</text>
<line x1="417.00" y1="126.50" x2="418.40" y2="126.50" stroke="#222" stroke-width="0.7"/>
<text x="416.60" y="128.37" font-size="5.2" font-weight="bold" text-anchor="end" fill="#1a1a1a">-4</text>
<text x="409.4" y="90.8" font-size="5.0" font-weight="bold" fill="#222" transform="rotate(-90 409.4 90.8)">Log<tspan font-size="3.4" dy="1.2">2</tspan><tspan dy="-1.2"> ratio</tspan></text>
<path d="M422.50 57.60 L422.50 49.80 L442.30 49.80 L442.30 57.60" stroke="#666" stroke-width="0.9" fill="none" stroke-linejoin="miter"/>
<text x="431.90" y="50.00" font-size="5.0" font-weight="bold" text-anchor="middle" fill="#1a1a1a">**</text>
<path d="M457.00 57.80 L457.00 49.90 L476.90 49.90 L476.90 57.80" stroke="#666" stroke-width="0.9" fill="none" stroke-linejoin="miter"/>
<text x="463.40" y="50.00" font-size="5.0" font-weight="bold" text-anchor="middle" fill="#1a1a1a">***</text>
<path d="M489.50 57.80 L489.50 49.90 L509.70 49.90 L509.70 57.80" stroke="#666" stroke-width="0.9" fill="none" stroke-linejoin="miter"/>
<text x="497.00" y="50.00" font-size="5.0" font-weight="bold" text-anchor="middle" fill="#1a1a1a">*</text>
<line x1="418.40" y1="89.20" x2="513.00" y2="89.20" stroke="#222" stroke-width="0.9"/>
<circle cx="426.4" cy="86.1" r="0.6" fill="#555"/>
<circle cx="426.7" cy="89.6" r="0.6" fill="#555"/>
<circle cx="426.1" cy="96.2" r="0.6" fill="#555"/>
<circle cx="425.6" cy="88.8" r="0.6" fill="#555"/>
<circle cx="427.3" cy="88.6" r="0.6" fill="#555"/>
<g fill="#1c1c1c"><circle cx="440.99" cy="76.83" r="0.55" fill="#777"/><circle cx="441.92" cy="77.02" r="0.55" fill="#777"/><circle cx="442.84" cy="77.00" r="0.55" fill="#777"/><circle cx="440.64" cy="77.63" r="0.55" fill="#777"/><circle cx="441.43" cy="78.01" r="0.55" fill="#777"/><circle cx="442.12" cy="77.91" r="0.55" fill="#777"/><circle cx="443.55" cy="77.80" r="0.55" fill="#777"/><circle cx="439.98" cy="78.88" r="0.55" fill="#777"/><circle cx="440.93" cy="78.51" r="0.55" fill="#777"/><circle cx="442.24" cy="78.54" r="0.55" fill="#777"/><circle cx="443.17" cy="78.64" r="0.55" fill="#777"/><circle cx="443.85" cy="78.48" r="0.55" fill="#777"/><circle cx="439.93" cy="79.51" r="0.55" fill="#777"/><circle cx="440.78" cy="79.53" r="0.55" fill="#777"/><circle cx="441.81" cy="79.65" r="0.55" fill="#777"/><circle cx="442.55" cy="79.56" r="0.55" fill="#777"/><circle cx="443.83" cy="79.44" r="0.55" fill="#777"/><circle cx="439.17" cy="80.36" r="0.55" fill="#777"/><circle cx="440.32" cy="80.39" r="0.55" fill="#777"/><circle cx="441.40" cy="80.53" r="0.55" fill="#777"/><circle cx="442.56" cy="80.31" r="0.55" fill="#777"/><circle cx="443.49" cy="80.44" r="0.55" fill="#777"/><circle cx="444.61" cy="80.62" r="0.55" fill="#777"/><circle cx="439.10" cy="81.03" r="0.62"/><circle cx="440.19" cy="81.50" r="0.62"/><circle cx="441.13" cy="81.19" r="0.62"/><circle cx="442.06" cy="81.23" r="0.62"/><circle cx="442.95" cy="81.03" r="0.62"/><circle cx="444.09" cy="81.12" r="0.62"/><circle cx="445.48" cy="81.04" r="0.62"/><circle cx="438.69" cy="82.29" r="0.62"/><circle cx="440.04" cy="81.99" r="0.62"/><circle cx="440.69" cy="82.29" r="0.62"/><circle cx="441.80" cy="81.94" r="0.62"/><circle cx="442.71" cy="82.09" r="0.62"/><circle cx="443.77" cy="81.85" r="0.62"/><circle cx="444.80" cy="82.13" r="0.62"/><circle cx="438.43" cy="82.96" r="0.62"/><circle cx="439.48" cy="82.73" r="0.62"/><circle cx="440.75" cy="83.14" r="0.62"/><circle cx="441.66" cy="82.90" r="0.62"/><circle cx="442.61" cy="82.73" r="0.62"/><circle cx="443.14" cy="82.78" r="0.62"/><circle cx="443.96" cy="82.70" r="0.62"/><circle cx="444.82" cy="82.88" r="0.62"/><circle cx="446.05" cy="83.01" r="0.62"/><circle cx="437.95" cy="83.72" r="0.62"/><circle cx="438.81" cy="83.97" r="0.62"/><circle cx="440.26" cy="83.79" r="0.62"/><circle cx="440.83" cy="83.72" r="0.62"/><circle cx="442.15" cy="83.63" r="0.62"/><circle cx="442.99" cy="83.81" r="0.62"/><circle cx="443.56" cy="83.56" r="0.62"/><circle cx="444.84" cy="83.98" r="0.62"/><circle cx="445.51" cy="83.73" r="0.62"/><circle cx="446.65" cy="83.82" r="0.62"/><circle cx="437.79" cy="84.51" r="0.62"/><circle cx="439.33" cy="84.83" r="0.62"/><circle cx="440.39" cy="84.77" r="0.62"/><circle cx="441.07" cy="84.58" r="0.62"/><circle cx="441.54" cy="84.54" r="0.62"/><circle cx="442.82" cy="84.88" r="0.62"/><circle cx="443.94" cy="84.89" r="0.62"/><circle cx="444.82" cy="84.51" r="0.62"/><circle cx="445.59" cy="84.50" r="0.62"/><circle cx="437.99" cy="85.67" r="0.62"/><circle cx="438.83" cy="85.65" r="0.62"/><circle cx="439.63" cy="85.70" r="0.62"/><circle cx="440.82" cy="85.49" r="0.62"/><circle cx="441.69" cy="85.42" r="0.62"/><circle cx="442.95" cy="85.45" r="0.62"/><circle cx="443.88" cy="85.61" r="0.62"/><circle cx="444.22" cy="85.33" r="0.62"/><circle cx="445.83" cy="85.32" r="0.62"/><circle cx="447.10" cy="85.58" r="0.62"/><circle cx="437.69" cy="86.17" r="0.62"/><circle cx="438.70" cy="86.42" r="0.62"/><circle cx="439.70" cy="86.32" r="0.62"/><circle cx="440.82" cy="86.21" r="0.62"/><circle cx="441.37" cy="86.22" r="0.62"/><circle cx="442.40" cy="86.31" r="0.62"/><circle cx="443.60" cy="86.28" r="0.62"/><circle cx="444.39" cy="86.55" r="0.62"/><circle cx="445.55" cy="86.35" r="0.62"/><circle cx="446.33" cy="86.11" r="0.62"/><circle cx="437.41" cy="86.95" r="0.62"/><circle cx="438.55" cy="87.19" r="0.62"/><circle cx="439.90" cy="87.11" r="0.62"/><circle cx="440.90" cy="87.34" r="0.62"/><circle cx="441.71" cy="87.07" r="0.62"/><circle cx="442.73" cy="87.20" r="0.62"/><circle cx="443.75" cy="87.41" r="0.62"/><circle cx="444.63" cy="87.20" r="0.62"/><circle cx="445.69" cy="87.18" r="0.62"/><circle cx="446.57" cy="87.42" r="0.62"/><circle cx="437.83" cy="88.27" r="0.62"/><circle cx="438.52" cy="88.27" r="0.62"/><circle cx="439.43" cy="87.86" r="0.62"/><circle cx="440.36" cy="87.92" r="0.62"/><circle cx="441.51" cy="88.19" r="0.62"/><circle cx="442.40" cy="88.16" r="0.62"/><circle cx="443.47" cy="88.24" r="0.62"/><circle cx="444.75" cy="88.28" r="0.62"/><circle cx="445.86" cy="88.29" r="0.62"/><circle cx="437.40" cy="88.87" r="0.62"/><circle cx="438.51" cy="88.75" r="0.62"/><circle cx="439.65" cy="88.66" r="0.62"/><circle cx="440.51" cy="88.66" r="0.62"/><circle cx="441.53" cy="88.91" r="0.62"/><circle cx="442.53" cy="89.04" r="0.62"/><circle cx="443.24" cy="88.78" r="0.62"/><circle cx="444.42" cy="88.79" r="0.62"/><circle cx="445.02" cy="89.11" r="0.62"/><circle cx="446.08" cy="88.72" r="0.62"/><circle cx="437.64" cy="89.85" r="0.62"/><circle cx="438.13" cy="89.84" r="0.62"/><circle cx="439.10" cy="89.97" r="0.62"/><circle cx="440.61" cy="89.54" r="0.62"/><circle cx="441.34" cy="89.93" r="0.62"/><circle cx="442.48" cy="89.78" r="0.62"/><circle cx="443.65" cy="89.56" r="0.62"/><circle cx="444.65" cy="89.55" r="0.62"/><circle cx="445.37" cy="89.60" r="0.62"/><circle cx="446.43" cy="89.88" r="0.62"/><circle cx="437.60" cy="90.44" r="0.62"/><circle cx="438.23" cy="90.48" r="0.62"/><circle cx="439.42" cy="90.63" r="0.62"/><circle cx="440.11" cy="90.82" r="0.62"/><circle cx="441.12" cy="90.57" r="0.62"/><circle cx="442.13" cy="90.55" r="0.62"/><circle cx="443.04" cy="90.84" r="0.62"/><circle cx="444.05" cy="90.70" r="0.62"/><circle cx="444.86" cy="90.52" r="0.62"/><circle cx="445.47" cy="90.39" r="0.62"/><circle cx="446.67" cy="90.43" r="0.62"/><circle cx="437.80" cy="91.64" r="0.62"/><circle cx="438.55" cy="91.32" r="0.62"/><circle cx="439.56" cy="91.28" r="0.62"/><circle cx="440.41" cy="91.68" r="0.62"/><circle cx="441.82" cy="91.32" r="0.62"/><circle cx="442.91" cy="91.38" r="0.62"/><circle cx="443.70" cy="91.44" r="0.62"/><circle cx="444.60" cy="91.45" r="0.62"/><circle cx="445.39" cy="91.24" r="0.62"/><circle cx="446.20" cy="91.21" r="0.62"/><circle cx="437.44" cy="92.34" r="0.62"/><circle cx="438.76" cy="92.38" r="0.62"/><circle cx="439.95" cy="92.24" r="0.62"/><circle cx="440.93" cy="92.12" r="0.62"/><circle cx="441.83" cy="92.07" r="0.62"/><circle cx="443.15" cy="92.36" r="0.62"/><circle cx="444.22" cy="92.12" r="0.62"/><circle cx="445.05" cy="92.47" r="0.62"/><circle cx="446.39" cy="92.34" r="0.62"/><circle cx="437.71" cy="93.25" r="0.62"/><circle cx="438.18" cy="92.97" r="0.62"/><circle cx="439.16" cy="93.32" r="0.62"/><circle cx="440.50" cy="93.21" r="0.62"/><circle cx="441.51" cy="92.90" r="0.62"/><circle cx="442.81" cy="93.15" r="0.62"/><circle cx="443.78" cy="92.93" r="0.62"/><circle cx="444.65" cy="92.94" r="0.62"/><circle cx="445.82" cy="93.00" r="0.62"/><circle cx="447.09" cy="93.15" r="0.62"/><circle cx="437.59" cy="94.09" r="0.62"/><circle cx="438.80" cy="94.07" r="0.62"/><circle cx="439.31" cy="93.88" r="0.62"/><circle cx="440.53" cy="94.03" r="0.62"/><circle cx="441.14" cy="93.88" r="0.62"/><circle cx="442.60" cy="94.09" r="0.62"/><circle cx="443.39" cy="93.98" r="0.62"/><circle cx="444.14" cy="94.20" r="0.62"/><circle cx="445.50" cy="94.22" r="0.62"/><circle cx="445.95" cy="94.16" r="0.62"/><circle cx="437.57" cy="94.73" r="0.62"/><circle cx="438.72" cy="94.71" r="0.62"/><circle cx="439.28" cy="94.86" r="0.62"/><circle cx="440.50" cy="95.01" r="0.62"/><circle cx="441.96" cy="94.95" r="0.62"/><circle cx="442.83" cy="94.84" r="0.62"/><circle cx="443.06" cy="94.85" r="0.62"/><circle cx="444.21" cy="94.67" r="0.62"/><circle cx="445.14" cy="95.02" r="0.62"/><circle cx="446.15" cy="95.02" r="0.62"/><circle cx="447.07" cy="94.96" r="0.62"/><circle cx="437.47" cy="95.64" r="0.62"/><circle cx="438.85" cy="95.74" r="0.62"/><circle cx="439.43" cy="95.59" r="0.62"/><circle cx="440.01" cy="95.87" r="0.62"/><circle cx="441.41" cy="95.57" r="0.62"/><circle cx="442.03" cy="95.54" r="0.62"/><circle cx="443.24" cy="95.89" r="0.62"/><circle cx="444.20" cy="95.91" r="0.62"/><circle cx="445.37" cy="95.81" r="0.62"/><circle cx="446.25" cy="95.68" r="0.62"/><circle cx="437.69" cy="96.44" r="0.62"/><circle cx="438.63" cy="96.36" r="0.62"/><circle cx="439.27" cy="96.45" r="0.62"/><circle cx="440.77" cy="96.43" r="0.62"/><circle cx="441.44" cy="96.58" r="0.62"/><circle cx="442.31" cy="96.38" r="0.62"/><circle cx="443.60" cy="96.55" r="0.62"/><circle cx="444.46" cy="96.80" r="0.62"/><circle cx="444.98" cy="96.40" r="0.62"/><circle cx="445.89" cy="96.35" r="0.62"/><circle cx="446.71" cy="96.58" r="0.62"/><circle cx="437.75" cy="97.36" r="0.62"/><circle cx="438.57" cy="97.34" r="0.62"/><circle cx="439.21" cy="97.29" r="0.62"/><circle cx="440.49" cy="97.40" r="0.62"/><circle cx="441.99" cy="97.26" r="0.62"/><circle cx="442.51" cy="97.35" r="0.62"/><circle cx="443.91" cy="97.57" r="0.62"/><circle cx="444.53" cy="97.17" r="0.62"/><circle cx="446.16" cy="97.39" r="0.62"/><circle cx="446.67" cy="97.35" r="0.62"/><circle cx="437.80" cy="98.43" r="0.62"/><circle cx="438.69" cy="98.05" r="0.62"/><circle cx="439.68" cy="98.34" r="0.62"/><circle cx="441.02" cy="98.32" r="0.62"/><circle cx="441.99" cy="98.28" r="0.62"/><circle cx="442.96" cy="98.12" r="0.62"/><circle cx="444.08" cy="98.15" r="0.62"/><circle cx="444.66" cy="98.32" r="0.62"/><circle cx="445.68" cy="98.04" r="0.62"/><circle cx="446.97" cy="98.19" r="0.62"/><circle cx="437.66" cy="98.86" r="0.62"/><circle cx="438.48" cy="99.33" r="0.62"/><circle cx="439.80" cy="99.09" r="0.62"/><circle cx="440.29" cy="99.33" r="0.62"/><circle cx="441.43" cy="98.86" r="0.62"/><circle cx="442.65" cy="99.06" r="0.62"/><circle cx="443.52" cy="99.31" r="0.62"/><circle cx="444.00" cy="99.02" r="0.62"/><circle cx="445.35" cy="98.95" r="0.62"/><circle cx="446.54" cy="99.10" r="0.62"/><circle cx="437.88" cy="99.86" r="0.62"/><circle cx="438.60" cy="99.81" r="0.62"/><circle cx="439.77" cy="100.18" r="0.62"/><circle cx="440.70" cy="99.81" r="0.62"/><circle cx="441.95" cy="100.17" r="0.62"/><circle cx="442.61" cy="99.81" r="0.62"/><circle cx="443.69" cy="99.73" r="0.62"/><circle cx="444.62" cy="100.15" r="0.62"/><circle cx="446.02" cy="100.20" r="0.62"/><circle cx="437.50" cy="100.64" r="0.62"/><circle cx="438.97" cy="100.57" r="0.62"/><circle cx="439.83" cy="100.74" r="0.62"/><circle cx="440.62" cy="100.55" r="0.62"/><circle cx="441.62" cy="101.03" r="0.62"/><circle cx="442.80" cy="100.65" r="0.62"/><circle cx="443.64" cy="100.96" r="0.62"/><circle cx="444.14" cy="100.79" r="0.62"/><circle cx="445.60" cy="100.65" r="0.62"/><circle cx="446.52" cy="100.57" r="0.62"/><circle cx="437.79" cy="101.78" r="0.62"/><circle cx="438.09" cy="101.43" r="0.62"/><circle cx="439.43" cy="101.77" r="0.62"/><circle cx="440.68" cy="101.54" r="0.62"/><circle cx="442.08" cy="101.53" r="0.62"/><circle cx="443.01" cy="101.54" r="0.62"/><circle cx="444.02" cy="101.86" r="0.62"/><circle cx="445.20" cy="101.41" r="0.62"/><circle cx="445.79" cy="101.88" r="0.62"/><circle cx="437.53" cy="102.38" r="0.62"/><circle cx="438.56" cy="102.71" r="0.62"/><circle cx="439.59" cy="102.62" r="0.62"/><circle cx="440.73" cy="102.55" r="0.62"/><circle cx="441.37" cy="102.43" r="0.62"/><circle cx="442.37" cy="102.35" r="0.62"/><circle cx="443.60" cy="102.28" r="0.62"/><circle cx="444.55" cy="102.41" r="0.62"/><circle cx="445.99" cy="102.74" r="0.62"/><circle cx="446.39" cy="102.30" r="0.62"/><circle cx="437.73" cy="103.32" r="0.62"/><circle cx="438.42" cy="103.41" r="0.62"/><circle cx="439.70" cy="103.52" r="0.62"/><circle cx="440.41" cy="103.52" r="0.62"/><circle cx="441.57" cy="103.29" r="0.62"/><circle cx="442.47" cy="103.22" r="0.62"/><circle cx="443.32" cy="103.54" r="0.62"/><circle cx="444.46" cy="103.30" r="0.62"/><circle cx="445.81" cy="103.22" r="0.62"/><circle cx="447.06" cy="103.60" r="0.62"/><circle cx="437.58" cy="104.36" r="0.62"/><circle cx="439.02" cy="103.97" r="0.62"/><circle cx="439.44" cy="104.04" r="0.62"/><circle cx="440.95" cy="104.42" r="0.62"/><circle cx="442.06" cy="104.17" r="0.62"/><circle cx="442.89" cy="104.42" r="0.62"/><circle cx="443.58" cy="104.26" r="0.62"/><circle cx="444.30" cy="104.02" r="0.62"/><circle cx="445.09" cy="104.25" r="0.62"/><circle cx="446.13" cy="103.96" r="0.62"/><circle cx="437.71" cy="104.89" r="0.62"/><circle cx="438.33" cy="105.20" r="0.62"/><circle cx="439.27" cy="104.85" r="0.62"/><circle cx="440.51" cy="105.12" r="0.62"/><circle cx="441.07" cy="105.15" r="0.62"/><circle cx="442.10" cy="104.95" r="0.62"/><circle cx="443.34" cy="105.08" r="0.62"/><circle cx="444.33" cy="105.23" r="0.62"/><circle cx="445.55" cy="104.90" r="0.62"/><circle cx="446.57" cy="104.80" r="0.62"/><circle cx="437.55" cy="106.06" r="0.62"/><circle cx="438.78" cy="105.88" r="0.62"/><circle cx="439.09" cy="105.93" r="0.62"/><circle cx="440.70" cy="105.69" r="0.62"/><circle cx="441.44" cy="105.90" r="0.62"/><circle cx="442.21" cy="105.91" r="0.62"/><circle cx="443.32" cy="105.90" r="0.62"/><circle cx="444.98" cy="105.75" r="0.62"/><circle cx="445.78" cy="106.14" r="0.62"/><circle cx="446.24" cy="106.11" r="0.62"/><circle cx="437.84" cy="106.81" r="0.62"/><circle cx="438.56" cy="106.89" r="0.62"/><circle cx="439.57" cy="106.92" r="0.62"/><circle cx="440.60" cy="106.61" r="0.62"/><circle cx="441.75" cy="106.69" r="0.62"/><circle cx="442.40" cy="106.86" r="0.62"/><circle cx="443.47" cy="106.78" r="0.62"/><circle cx="444.60" cy="106.92" r="0.62"/><circle cx="445.75" cy="106.78" r="0.62"/><circle cx="446.63" cy="106.71" r="0.62"/><circle cx="437.56" cy="107.68" r="0.62"/><circle cx="438.54" cy="107.36" r="0.62"/><circle cx="439.63" cy="107.47" r="0.62"/><circle cx="440.93" cy="107.58" r="0.62"/><circle cx="441.59" cy="107.40" r="0.62"/><circle cx="442.38" cy="107.40" r="0.62"/><circle cx="443.40" cy="107.37" r="0.62"/><circle cx="444.21" cy="107.72" r="0.62"/><circle cx="445.60" cy="107.38" r="0.62"/><circle cx="446.53" cy="107.83" r="0.62"/><circle cx="437.88" cy="108.70" r="0.62"/><circle cx="438.97" cy="108.30" r="0.62"/><circle cx="440.02" cy="108.68" r="0.62"/><circle cx="441.03" cy="108.59" r="0.62"/><circle cx="442.19" cy="108.38" r="0.62"/><circle cx="443.37" cy="108.65" r="0.62"/><circle cx="444.65" cy="108.27" r="0.62"/><circle cx="445.72" cy="108.30" r="0.62"/><circle cx="446.35" cy="108.36" r="0.62"/><circle cx="437.60" cy="109.13" r="0.62"/><circle cx="439.12" cy="109.50" r="0.62"/><circle cx="440.02" cy="109.11" r="0.62"/><circle cx="440.94" cy="109.23" r="0.62"/><circle cx="442.08" cy="109.34" r="0.62"/><circle cx="443.00" cy="109.55" r="0.62"/><circle cx="444.24" cy="109.45" r="0.62"/><circle cx="445.48" cy="109.34" r="0.62"/><circle cx="446.28" cy="109.27" r="0.62"/><circle cx="438.09" cy="109.92" r="0.62"/><circle cx="438.96" cy="110.22" r="0.62"/><circle cx="440.40" cy="110.23" r="0.62"/><circle cx="440.95" cy="109.92" r="0.62"/><circle cx="442.15" cy="110.12" r="0.62"/><circle cx="443.32" cy="109.97" r="0.62"/><circle cx="444.04" cy="109.91" r="0.62"/><circle cx="444.61" cy="109.95" r="0.62"/><circle cx="445.46" cy="110.19" r="0.62"/><circle cx="438.02" cy="111.06" r="0.62"/><circle cx="438.97" cy="111.22" r="0.62"/><circle cx="439.85" cy="110.80" r="0.62"/><circle cx="441.35" cy="111.14" r="0.62"/><circle cx="441.94" cy="110.76" r="0.62"/><circle cx="443.19" cy="110.93" r="0.62"/><circle cx="444.19" cy="111.22" r="0.62"/><circle cx="445.19" cy="111.20" r="0.62"/><circle cx="446.13" cy="110.95" r="0.62"/><circle cx="438.19" cy="111.99" r="0.62"/><circle cx="439.24" cy="112.07" r="0.62"/><circle cx="439.85" cy="111.90" r="0.62"/><circle cx="441.12" cy="112.01" r="0.62"/><circle cx="441.76" cy="111.75" r="0.62"/><circle cx="442.88" cy="111.99" r="0.62"/><circle cx="443.46" cy="112.02" r="0.62"/><circle cx="444.86" cy="111.97" r="0.62"/><circle cx="445.69" cy="111.65" r="0.62"/><circle cx="438.50" cy="112.62" r="0.62"/><circle cx="440.02" cy="112.87" r="0.62"/><circle cx="440.87" cy="112.73" r="0.62"/><circle cx="442.15" cy="112.71" r="0.62"/><circle cx="442.95" cy="112.93" r="0.62"/><circle cx="443.95" cy="112.46" r="0.62"/><circle cx="444.44" cy="112.82" r="0.62"/><circle cx="439.27" cy="113.46" r="0.62"/><circle cx="440.21" cy="113.42" r="0.62"/><circle cx="441.59" cy="113.65" r="0.62"/><circle cx="442.88" cy="113.53" r="0.62"/><circle cx="443.88" cy="113.73" r="0.62"/><circle cx="444.87" cy="113.59" r="0.62"/><circle cx="439.33" cy="114.46" r="0.55" fill="#555"/><circle cx="440.54" cy="114.22" r="0.55" fill="#555"/><circle cx="440.82" cy="114.61" r="0.55" fill="#555"/><circle cx="441.76" cy="114.16" r="0.55" fill="#555"/><circle cx="442.86" cy="114.47" r="0.55" fill="#555"/><circle cx="443.99" cy="114.18" r="0.55" fill="#555"/><circle cx="444.81" cy="114.56" r="0.55" fill="#555"/><circle cx="440.16" cy="115.03" r="0.55" fill="#555"/><circle cx="441.36" cy="115.47" r="0.55" fill="#555"/><circle cx="441.74" cy="115.06" r="0.55" fill="#555"/><circle cx="442.89" cy="115.41" r="0.55" fill="#555"/><circle cx="443.94" cy="115.32" r="0.55" fill="#555"/><circle cx="444.40" cy="115.05" r="0.55" fill="#555"/><circle cx="440.19" cy="116.01" r="0.55" fill="#555"/><circle cx="441.04" cy="115.98" r="0.55" fill="#555"/><circle cx="442.35" cy="116.03" r="0.55" fill="#555"/><circle cx="443.41" cy="116.10" r="0.55" fill="#555"/><circle cx="441.00" cy="116.72" r="0.55" fill="#555"/><circle cx="441.85" cy="117.09" r="0.55" fill="#555"/><circle cx="442.94" cy="116.97" r="0.55" fill="#555"/></g>
<circle cx="442.2" cy="61.5" r="0.6" fill="#555"/>
<circle cx="441.5" cy="64.2" r="0.6" fill="#555"/>
<circle cx="442.6" cy="70.5" r="0.6" fill="#555"/>
<circle cx="441.8" cy="73.2" r="0.6" fill="#555"/>
<circle cx="443.2" cy="74.8" r="0.6" fill="#555"/>
<circle cx="441.4" cy="118.6" r="0.6" fill="#555"/>
<circle cx="442.6" cy="119.6" r="0.6" fill="#555"/>
<circle cx="460.3" cy="89.0" r="0.7" fill="#555"/>
<circle cx="461.2" cy="88.6" r="0.7" fill="#555"/>
<circle cx="459.8" cy="89.6" r="0.7" fill="#555"/>
<rect x="469.30" y="88.40" width="10.10" height="6.40" fill="#1e1e1e"/>
<circle cx="474.73" cy="81.0" r="0.55" fill="#777"/>
<circle cx="473.81" cy="83.0" r="0.55" fill="#777"/>
<circle cx="474.68" cy="85.0" r="0.55" fill="#777"/>
<circle cx="473.90" cy="86.5" r="0.55" fill="#777"/>
<circle cx="473.70" cy="87.5" r="0.55" fill="#777"/>
<circle cx="491.6" cy="89.0" r="0.7" fill="#555"/>
<circle cx="492.3" cy="88.4" r="0.7" fill="#555"/>
<path d="M500.5 88.8 L511.4 88.8 L510.6 91.2 L506 92.0 L501.2 91.2 Z" fill="#2a2a2a"/>
<circle cx="505.4" cy="83.5" r="0.55" fill="#777"/>
<circle cx="505.8" cy="85.2" r="0.55" fill="#777"/>
<circle cx="505.0" cy="86.8" r="0.55" fill="#777"/>
<text x="420.20" y="122.79" font-size="4.2" font-weight="bold" textLength="14.00" lengthAdjust="spacingAndGlyphs" fill="#222">Normal</text>
<text x="438.00" y="122.79" font-size="4.2" font-weight="bold" textLength="9.40" lengthAdjust="spacingAndGlyphs" fill="#222">GBM</text>
<line x1="421.00" y1="125.80" x2="447.40" y2="125.80" stroke="#333" stroke-width="0.8"/>
<text x="453.50" y="122.79" font-size="4.2" font-weight="bold" textLength="13.00" lengthAdjust="spacingAndGlyphs" fill="#222">Normal</text>
<text x="470.00" y="122.79" font-size="4.2" font-weight="bold" textLength="9.40" lengthAdjust="spacingAndGlyphs" fill="#222">GBM</text>
<line x1="455.00" y1="125.80" x2="480.00" y2="125.80" stroke="#333" stroke-width="0.8"/>
<text x="484.50" y="122.79" font-size="4.2" font-weight="bold" textLength="14.50" lengthAdjust="spacingAndGlyphs" fill="#222">Normal</text>
<text x="503.00" y="122.79" font-size="4.2" font-weight="bold" textLength="8.40" lengthAdjust="spacingAndGlyphs" fill="#222">GBM</text>
<line x1="484.50" y1="125.80" x2="511.40" y2="125.80" stroke="#333" stroke-width="0.8"/>
<text x="436.00" y="131.91" font-size="4.2" font-weight="bold" text-anchor="middle" fill="#222">TCGA</text>
<text x="436.00" y="136.59" font-size="4.2" font-weight="bold" text-anchor="middle" fill="#222">Agilent</text>
<text x="469.30" y="131.51" font-size="4.2" font-weight="bold" text-anchor="middle" fill="#222">TCGA</text>
<text x="469.30" y="136.19" font-size="4.2" font-weight="bold" text-anchor="middle" fill="#222">Affymetrix</text>
<text x="499.00" y="131.51" font-size="4.2" font-weight="bold" text-anchor="middle" fill="#222">GSE7696</text>
<text x="195.60" y="159.00" font-size="12.0" font-weight="bold">F</text>
<line x1="214.10" y1="181.00" x2="214.10" y2="247.60" stroke="#222" stroke-width="0.9"/>
<line x1="212.70" y1="181.30" x2="214.10" y2="181.30" stroke="#222" stroke-width="0.7"/>
<text x="212.20" y="183.10" font-size="5.0" font-weight="bold" text-anchor="end" fill="#222">1</text>
<line x1="212.70" y1="192.30" x2="214.10" y2="192.30" stroke="#222" stroke-width="0.7"/>
<text x="212.20" y="194.10" font-size="5.0" font-weight="bold" text-anchor="end" fill="#222">0</text>
<line x1="212.70" y1="203.30" x2="214.10" y2="203.30" stroke="#222" stroke-width="0.7"/>
<text x="212.20" y="205.10" font-size="5.0" font-weight="bold" text-anchor="end" fill="#222">-1</text>
<line x1="212.70" y1="214.30" x2="214.10" y2="214.30" stroke="#222" stroke-width="0.7"/>
<text x="212.20" y="216.10" font-size="5.0" font-weight="bold" text-anchor="end" fill="#222">-2</text>
<line x1="212.70" y1="225.30" x2="214.10" y2="225.30" stroke="#222" stroke-width="0.7"/>
<text x="212.20" y="227.10" font-size="5.0" font-weight="bold" text-anchor="end" fill="#222">-3</text>
<line x1="212.70" y1="236.30" x2="214.10" y2="236.30" stroke="#222" stroke-width="0.7"/>
<text x="212.20" y="238.10" font-size="5.0" font-weight="bold" text-anchor="end" fill="#222">-4</text>
<line x1="212.70" y1="247.30" x2="214.10" y2="247.30" stroke="#222" stroke-width="0.7"/>
<text x="212.20" y="249.10" font-size="5.0" font-weight="bold" text-anchor="end" fill="#222">-5</text>
<line x1="214.10" y1="191.90" x2="285.50" y2="191.90" stroke="#222" stroke-width="0.9"/>
<path d="M235.50 183.50 L235.50 173.40 L267.60 173.40 L267.60 183.50" stroke="#444" stroke-width="0.9" fill="none" stroke-linejoin="miter"/>
<text x="251.30" y="173.60" font-size="5.2" font-weight="bold" text-anchor="middle" fill="#1a1a1a">**</text>
<rect x="230.00" y="191.20" width="4.20" height="1.80" fill="#1a1a1a"/>
<line x1="231.90" y1="189.50" x2="231.90" y2="191.50" stroke="#555" stroke-width="0.6"/>
<path d="M266.1 193.8 L267.7 193.8 L266.9 195.1 Z" fill="#333"/>
<path d="M266.1 195.3 L267.7 195.3 L266.9 196.6 Z" fill="#333"/>
<path d="M266.1 199.0 L267.7 199.0 L266.9 200.3 Z" fill="#333"/>
<path d="M266.1 201.0 L267.7 201.0 L266.9 202.3 Z" fill="#333"/>
<path d="M266.1 203.1 L267.7 203.1 L266.9 204.4 Z" fill="#333"/>
<path d="M266.1 204.1 L267.7 204.1 L266.9 205.4 Z" fill="#333"/>
<path d="M266.1 206.8 L267.7 206.8 L266.9 208.1 Z" fill="#333"/>
<path d="M266.1 211.3 L267.7 211.3 L266.9 212.6 Z" fill="#333"/>
<path d="M266.1 215.5 L267.7 215.5 L266.9 216.8 Z" fill="#333"/>
<path d="M266.1 217.6 L267.7 217.6 L266.9 218.9 Z" fill="#333"/>
<path d="M266.1 219.7 L267.7 219.7 L266.9 221.0 Z" fill="#333"/>
<path d="M266.1 229.0 L267.7 229.0 L266.9 230.3 Z" fill="#333"/>
<path d="M266.1 232.1 L267.7 232.1 L266.9 233.4 Z" fill="#333"/>
<path d="M266.1 234.2 L267.7 234.2 L266.9 235.5 Z" fill="#333"/>
<path d="M266.1 236.3 L267.7 236.3 L266.9 237.6 Z" fill="#333"/>
<line x1="260.70" y1="210.00" x2="275.00" y2="210.00" stroke="#ccc" stroke-width="0.6"/>
<line x1="260.70" y1="216.20" x2="275.00" y2="216.20" stroke="#ccc" stroke-width="0.6"/>
<text x="202.0" y="228.1" font-size="5.6" font-weight="bold" fill="#222" transform="rotate(-90 202.0 228.1)">Log<tspan font-size="3.8" dy="1.3">2</tspan><tspan dy="-1.3"> ratio</tspan></text>
<text x="223.60" y="249.78" font-size="5.4" font-weight="bold" textLength="20.00" lengthAdjust="spacingAndGlyphs" fill="#222">Normal</text>
<text x="262.80" y="249.84" font-size="5.4" font-weight="bold" textLength="11.40" lengthAdjust="spacingAndGlyphs" fill="#222">GBM</text>
<line x1="228.60" y1="253.10" x2="272.00" y2="253.10" stroke="#333" stroke-width="0.8"/>
<text x="232.40" y="259.58" font-size="5.4" font-weight="bold" textLength="37.80" lengthAdjust="spacingAndGlyphs" fill="#222">Indian cohort</text>
<text x="305.60" y="158.80" font-size="12.0" font-weight="bold">G</text>
<line x1="320.30" y1="165.20" x2="320.30" y2="253.40" stroke="#333" stroke-width="1.0"/>
<line x1="318.80" y1="165.70" x2="320.30" y2="165.70" stroke="#222" stroke-width="0.7"/>
<text x="318.60" y="167.82" font-size="5.9" font-weight="bold" text-anchor="end" fill="#1a1a1a">100</text>
<line x1="318.80" y1="183.24" x2="320.30" y2="183.24" stroke="#222" stroke-width="0.7"/>
<text x="318.60" y="185.36" font-size="5.9" font-weight="bold" text-anchor="end" fill="#1a1a1a">80</text>
<line x1="318.80" y1="200.78" x2="320.30" y2="200.78" stroke="#222" stroke-width="0.7"/>
<text x="318.60" y="202.90" font-size="5.9" font-weight="bold" text-anchor="end" fill="#1a1a1a">60</text>
<line x1="318.80" y1="218.32" x2="320.30" y2="218.32" stroke="#222" stroke-width="0.7"/>
<text x="318.60" y="220.44" font-size="5.9" font-weight="bold" text-anchor="end" fill="#1a1a1a">40</text>
<line x1="318.80" y1="235.86" x2="320.30" y2="235.86" stroke="#222" stroke-width="0.7"/>
<text x="318.60" y="237.98" font-size="5.9" font-weight="bold" text-anchor="end" fill="#1a1a1a">20</text>
<line x1="318.80" y1="253.40" x2="320.30" y2="253.40" stroke="#222" stroke-width="0.7"/>
<text x="318.60" y="255.52" font-size="5.9" font-weight="bold" text-anchor="end" fill="#1a1a1a">0</text>
<line x1="320.30" y1="253.40" x2="395.00" y2="253.40" stroke="#222" stroke-width="1.0"/>
<line x1="320.50" y1="253.40" x2="320.50" y2="254.90" stroke="#222" stroke-width="0.7"/>
<text x="320.50" y="260.92" font-size="5.9" font-weight="bold" text-anchor="middle" fill="#1a1a1a">0</text>
<line x1="331.15" y1="253.40" x2="331.15" y2="254.90" stroke="#222" stroke-width="0.7"/>
<text x="331.15" y="260.92" font-size="5.9" font-weight="bold" text-anchor="middle" fill="#1a1a1a">20</text>
<line x1="341.80" y1="253.40" x2="341.80" y2="254.90" stroke="#222" stroke-width="0.7"/>
<text x="341.80" y="260.92" font-size="5.9" font-weight="bold" text-anchor="middle" fill="#1a1a1a">40</text>
<line x1="352.45" y1="253.40" x2="352.45" y2="254.90" stroke="#222" stroke-width="0.7"/>
<text x="352.45" y="260.92" font-size="5.9" font-weight="bold" text-anchor="middle" fill="#1a1a1a">60</text>
<line x1="363.10" y1="253.40" x2="363.10" y2="254.90" stroke="#222" stroke-width="0.7"/>
<text x="363.10" y="260.92" font-size="5.9" font-weight="bold" text-anchor="middle" fill="#1a1a1a">80</text>
<line x1="373.75" y1="253.40" x2="373.75" y2="254.90" stroke="#222" stroke-width="0.7"/>
<text x="373.75" y="260.92" font-size="5.9" font-weight="bold" text-anchor="middle" fill="#1a1a1a">100</text>
<line x1="384.40" y1="253.40" x2="384.40" y2="254.90" stroke="#222" stroke-width="0.7"/>
<text x="384.40" y="260.92" font-size="5.9" font-weight="bold" text-anchor="middle" fill="#1a1a1a">120</text>
<line x1="395.05" y1="253.40" x2="395.05" y2="254.90" stroke="#222" stroke-width="0.7"/>
<text x="395.05" y="260.92" font-size="5.9" font-weight="bold" text-anchor="middle" fill="#1a1a1a">140</text>
<text x="309.70" y="233.80" font-size="6.0" font-weight="bold" textLength="44.00" lengthAdjust="spacingAndGlyphs" fill="#1a1a1a" transform="rotate(-90 309.70 233.80)">Percent survival</text>
<text x="324.40" y="267.78" font-size="6.0" font-weight="bold" textLength="68.70" lengthAdjust="spacingAndGlyphs" fill="#1a1a1a">Overall survival (months)</text>
<path d="M320.30 165.70 L320.80 166.50 L321.30 172.00 L322.30 185.00 L323.30 195.00 L324.50 203.00 L326.00 213.00 L327.50 221.00 L329.50 228.00 L331.60 234.40 L333.00 238.50 L335.00 242.50 L338.00 246.50 L342.00 248.00 L346.00 248.60 L352.00 249.40 L358.00 250.40 L365.00 251.20 L372.00 252.00 L380.00 252.60" stroke="#b4b4b4" stroke-width="1.2" fill="none" stroke-linejoin="miter"/>
<path d="M320.30 165.70 L321.00 166.00 L321.50 172.00 L322.20 180.00 L323.90 190.10 L325.60 200.20 L327.30 210.30 L329.40 220.40 L331.80 230.50 L334.00 238.10 L338.20 241.40 L343.30 244.80 L351.30 247.60 L358.00 249.00 L366.80 250.20 L374.00 251.20 L382.40 252.00 L392.70 252.70" stroke="#111" stroke-width="1.5" fill="none" stroke-linejoin="miter"/>
<text x="344.30" y="167.05" font-size="5.6" font-weight="bold" textLength="35.00" lengthAdjust="spacingAndGlyphs" fill="#222">TCGA Agilent</text>
<line x1="344.30" y1="167.95" x2="379.30" y2="167.95" stroke="#222" stroke-width="0.6"/>
<line x1="336.90" y1="174.50" x2="338.60" y2="174.50" stroke="#aaa" stroke-width="0.8"/>
<text x="340.00" y="176.41" font-size="5.8" textLength="38.00" lengthAdjust="spacingAndGlyphs" fill="#1a1a1a">Low expression</text>
<text x="340.00" y="183.71" font-size="5.8" textLength="22.60" lengthAdjust="spacingAndGlyphs" fill="#1a1a1a">(<tspan font-style="italic">n</tspan> = 107)</text>
<text x="340.00" y="190.51" font-size="5.8" textLength="44.00" lengthAdjust="spacingAndGlyphs" fill="#1a1a1a">Median survival =</text>
<text x="340.00" y="197.41" font-size="5.8" textLength="10.40" lengthAdjust="spacingAndGlyphs" fill="#1a1a1a">11.9</text>
<text x="353.60" y="197.41" font-size="5.8" textLength="19.40" lengthAdjust="spacingAndGlyphs" fill="#1a1a1a">months</text>
<line x1="338.00" y1="204.30" x2="340.00" y2="204.30" stroke="#222" stroke-width="1.0"/>
<text x="340.80" y="206.21" font-size="5.8" textLength="40.00" lengthAdjust="spacingAndGlyphs" fill="#1a1a1a">High expression</text>
<text x="340.80" y="213.41" font-size="5.8" textLength="22.60" lengthAdjust="spacingAndGlyphs" fill="#1a1a1a">(<tspan font-style="italic">n</tspan> = 428)</text>
<text x="340.80" y="220.21" font-size="5.8" textLength="44.00" lengthAdjust="spacingAndGlyphs" fill="#1a1a1a">Median survival =</text>
<text x="340.40" y="227.01" font-size="5.8" textLength="10.40" lengthAdjust="spacingAndGlyphs" fill="#1a1a1a">14.6</text>
<text x="354.40" y="227.01" font-size="5.8" textLength="19.40" lengthAdjust="spacingAndGlyphs" fill="#1a1a1a">months</text>
<text x="344.70" y="235.71" font-size="5.8" textLength="24.40" lengthAdjust="spacingAndGlyphs" fill="#1a1a1a"><tspan font-style="italic">P</tspan> = 0.018</text>
<text x="403.60" y="159.00" font-size="12.0" font-weight="bold">H</text>
<line x1="418.60" y1="166.00" x2="418.60" y2="254.00" stroke="#333" stroke-width="1.0"/>
<line x1="417.10" y1="166.50" x2="418.60" y2="166.50" stroke="#222" stroke-width="0.7"/>
<text x="417.00" y="168.62" font-size="5.9" font-weight="bold" text-anchor="end" fill="#1a1a1a">100</text>
<line x1="417.10" y1="184.00" x2="418.60" y2="184.00" stroke="#222" stroke-width="0.7"/>
<text x="417.00" y="186.12" font-size="5.9" font-weight="bold" text-anchor="end" fill="#1a1a1a">80</text>
<line x1="417.10" y1="201.50" x2="418.60" y2="201.50" stroke="#222" stroke-width="0.7"/>
<text x="417.00" y="203.62" font-size="5.9" font-weight="bold" text-anchor="end" fill="#1a1a1a">60</text>
<line x1="417.10" y1="219.00" x2="418.60" y2="219.00" stroke="#222" stroke-width="0.7"/>
<text x="417.00" y="221.12" font-size="5.9" font-weight="bold" text-anchor="end" fill="#1a1a1a">40</text>
<line x1="417.10" y1="236.50" x2="418.60" y2="236.50" stroke="#222" stroke-width="0.7"/>
<text x="417.00" y="238.62" font-size="5.9" font-weight="bold" text-anchor="end" fill="#1a1a1a">20</text>
<line x1="417.10" y1="254.00" x2="418.60" y2="254.00" stroke="#222" stroke-width="0.7"/>
<text x="417.00" y="256.12" font-size="5.9" font-weight="bold" text-anchor="end" fill="#1a1a1a">0</text>
<line x1="418.60" y1="254.00" x2="500.50" y2="254.00" stroke="#222" stroke-width="1.0"/>
<line x1="418.80" y1="254.00" x2="418.80" y2="255.50" stroke="#222" stroke-width="0.7"/>
<text x="418.80" y="261.52" font-size="5.9" font-weight="bold" text-anchor="middle" fill="#1a1a1a">0</text>
<line x1="445.80" y1="254.00" x2="445.80" y2="255.50" stroke="#222" stroke-width="0.7"/>
<text x="445.80" y="261.52" font-size="5.9" font-weight="bold" text-anchor="middle" fill="#1a1a1a">50</text>
<line x1="472.80" y1="254.00" x2="472.80" y2="255.50" stroke="#222" stroke-width="0.7"/>
<text x="472.80" y="261.52" font-size="5.9" font-weight="bold" text-anchor="middle" fill="#1a1a1a">100</text>
<line x1="499.80" y1="254.00" x2="499.80" y2="255.50" stroke="#222" stroke-width="0.7"/>
<text x="499.80" y="261.52" font-size="5.9" font-weight="bold" text-anchor="middle" fill="#1a1a1a">150</text>
<text x="408.90" y="233.80" font-size="6.0" font-weight="bold" textLength="44.00" lengthAdjust="spacingAndGlyphs" fill="#1a1a1a" transform="rotate(-90 408.90 233.80)">Percent survival</text>
<text x="428.30" y="268.28" font-size="6.0" font-weight="bold" textLength="67.30" lengthAdjust="spacingAndGlyphs" fill="#1a1a1a">Overall survival (months)</text>
<path d="M418.60 166.50 L419.30 168.00 L420.00 172.00 L421.00 188.50 L423.00 198.90 L424.50 207.00 L425.90 219.50 L428.00 227.00 L431.00 236.90 L433.00 240.00 L435.20 242.70 L438.00 245.50 L441.50 247.80 L445.00 249.30 L449.70 250.50 L456.00 251.50 L465.00 252.20 L475.00 252.70 L485.00 253.00" stroke="#b4b4b4" stroke-width="1.2" fill="none" stroke-linejoin="miter"/>
<path d="M418.60 166.50 L419.00 165.80 L420.40 173.00 L421.00 180.00 L423.10 188.40 L424.80 196.80 L425.80 205.30 L426.60 213.70 L428.10 222.10 L430.30 230.50 L432.80 235.60 L436.20 238.60 L440.40 239.80 L446.00 243.10 L450.00 243.80 L453.90 244.70 L458.00 245.80 L462.20 246.80 L468.40 248.90 L471.50 251.00 L475.00 252.30 L478.80 253.00 L497.50 253.40" stroke="#111" stroke-width="1.5" fill="none" stroke-linejoin="miter"/>
<text x="435.40" y="167.45" font-size="5.6" font-weight="bold" textLength="44.60" lengthAdjust="spacingAndGlyphs" fill="#222">TCGA Affymetrix</text>
<line x1="435.40" y1="168.35" x2="480.00" y2="168.35" stroke="#222" stroke-width="0.6"/>
<line x1="445.20" y1="174.80" x2="447.00" y2="174.80" stroke="#aaa" stroke-width="0.8"/>
<text x="448.90" y="176.71" font-size="5.8" textLength="39.60" lengthAdjust="spacingAndGlyphs" fill="#1a1a1a">Low expression</text>
<text x="448.90" y="183.31" font-size="5.8" textLength="22.60" lengthAdjust="spacingAndGlyphs" fill="#1a1a1a">(<tspan font-style="italic">n</tspan> = 259)</text>
<text x="448.90" y="190.11" font-size="5.8" textLength="44.20" lengthAdjust="spacingAndGlyphs" fill="#1a1a1a">Median survival =</text>
<text x="448.90" y="197.01" font-size="5.8" textLength="14.20" lengthAdjust="spacingAndGlyphs" fill="#1a1a1a">12.77</text>
<text x="466.10" y="197.01" font-size="5.8" textLength="18.60" lengthAdjust="spacingAndGlyphs" fill="#1a1a1a">months</text>
<line x1="445.00" y1="206.00" x2="447.40" y2="206.00" stroke="#222" stroke-width="1.0"/>
<text x="448.20" y="207.91" font-size="5.8" textLength="40.80" lengthAdjust="spacingAndGlyphs" fill="#1a1a1a">High expression</text>
<text x="448.20" y="214.81" font-size="5.8" textLength="22.60" lengthAdjust="spacingAndGlyphs" fill="#1a1a1a">(<tspan font-style="italic">n</tspan> = 259)</text>
<text x="448.20" y="221.51" font-size="5.8" textLength="44.20" lengthAdjust="spacingAndGlyphs" fill="#1a1a1a">Median survival =</text>
<text x="448.20" y="228.21" font-size="5.8" textLength="14.60" lengthAdjust="spacingAndGlyphs" fill="#1a1a1a">15.03</text>
<text x="465.60" y="228.21" font-size="5.8" textLength="18.60" lengthAdjust="spacingAndGlyphs" fill="#1a1a1a">months</text>
<text x="448.20" y="235.11" font-size="5.8" textLength="24.40" lengthAdjust="spacingAndGlyphs" fill="#1a1a1a"><tspan font-style="italic">P</tspan> = 0.001</text>
<text x="0.40" y="279.80" font-size="12.0" font-weight="bold">I</text>
<line x1="35.40" y1="277.70" x2="35.40" y2="364.80" stroke="#333" stroke-width="1.0"/>
<line x1="33.90" y1="278.20" x2="35.40" y2="278.20" stroke="#222" stroke-width="0.7"/>
<text x="34.00" y="280.32" font-size="5.9" font-weight="bold" text-anchor="end" fill="#1a1a1a">100</text>
<line x1="33.90" y1="295.52" x2="35.40" y2="295.52" stroke="#222" stroke-width="0.7"/>
<text x="34.00" y="297.64" font-size="5.9" font-weight="bold" text-anchor="end" fill="#1a1a1a">80</text>
<line x1="33.90" y1="312.84" x2="35.40" y2="312.84" stroke="#222" stroke-width="0.7"/>
<text x="34.00" y="314.96" font-size="5.9" font-weight="bold" text-anchor="end" fill="#1a1a1a">60</text>
<line x1="33.90" y1="330.16" x2="35.40" y2="330.16" stroke="#222" stroke-width="0.7"/>
<text x="34.00" y="332.28" font-size="5.9" font-weight="bold" text-anchor="end" fill="#1a1a1a">40</text>
<line x1="33.90" y1="347.48" x2="35.40" y2="347.48" stroke="#222" stroke-width="0.7"/>
<text x="34.00" y="349.60" font-size="5.9" font-weight="bold" text-anchor="end" fill="#1a1a1a">20</text>
<line x1="33.90" y1="364.80" x2="35.40" y2="364.80" stroke="#222" stroke-width="0.7"/>
<text x="34.00" y="366.92" font-size="5.9" font-weight="bold" text-anchor="end" fill="#1a1a1a">0</text>
<line x1="35.40" y1="364.80" x2="113.60" y2="364.80" stroke="#222" stroke-width="1.0"/>
<line x1="35.40" y1="364.80" x2="35.40" y2="366.30" stroke="#222" stroke-width="0.7"/>
<text x="35.40" y="372.32" font-size="5.9" font-weight="bold" text-anchor="middle" fill="#1a1a1a">0</text>
<line x1="54.95" y1="364.80" x2="54.95" y2="366.30" stroke="#222" stroke-width="0.7"/>
<text x="54.95" y="372.32" font-size="5.9" font-weight="bold" text-anchor="middle" fill="#1a1a1a">20</text>
<line x1="74.50" y1="364.80" x2="74.50" y2="366.30" stroke="#222" stroke-width="0.7"/>
<text x="74.50" y="372.32" font-size="5.9" font-weight="bold" text-anchor="middle" fill="#1a1a1a">40</text>
<line x1="94.05" y1="364.80" x2="94.05" y2="366.30" stroke="#222" stroke-width="0.7"/>
<text x="94.05" y="372.32" font-size="5.9" font-weight="bold" text-anchor="middle" fill="#1a1a1a">60</text>
<line x1="113.60" y1="364.80" x2="113.60" y2="366.30" stroke="#222" stroke-width="0.7"/>
<text x="113.60" y="372.32" font-size="5.9" font-weight="bold" text-anchor="middle" fill="#1a1a1a">80</text>
<text x="24.60" y="338.40" font-size="6.0" font-weight="bold" textLength="44.40" lengthAdjust="spacingAndGlyphs" fill="#1a1a1a" transform="rotate(-90 24.60 338.40)">Percent survival</text>
<text x="41.10" y="378.58" font-size="6.0" font-weight="bold" textLength="68.10" lengthAdjust="spacingAndGlyphs" fill="#1a1a1a">Overall survival (months)</text>
<path d="M35.40 278.20 L38.00 280.00 L40.00 284.00 L41.90 286.70 L43.50 292.00 L45.00 299.20 L46.60 305.00 L48.10 311.60 L49.70 318.00 L50.60 324.80 L51.20 330.50 L52.00 341.40 L53.60 343.00 L55.50 346.00 L57.50 348.40 L60.60 352.30 L63.00 354.50 L65.20 356.10 L98.00 356.10" stroke="#c4c4c4" stroke-width="1.1" fill="none" stroke-linejoin="miter"/>
<path d="M35.40 277.60 L38.80 277.60 L38.80 281.80 L40.70 281.80 L40.70 286.00 L42.70 286.00 L42.70 290.60 L46.60 290.60 L46.60 295.30 L49.70 295.30 L49.70 296.80 L51.20 296.80 L51.20 315.50 L59.80 315.50 L59.80 321.50 L80.50 321.50 L80.50 330.20 L93.90 330.20 L93.90 341.70 L106.30 341.70" stroke="#222" stroke-width="1.15" fill="none" stroke-linejoin="miter"/>
<text x="63.10" y="278.45" font-size="5.6" font-weight="bold" textLength="24.90" lengthAdjust="spacingAndGlyphs" fill="#222">GSE7696</text>
<line x1="63.10" y1="279.35" x2="88.00" y2="279.35" stroke="#222" stroke-width="0.6"/>
<line x1="69.30" y1="285.20" x2="71.40" y2="285.20" stroke="#aaa" stroke-width="0.8"/>
<text x="73.20" y="287.11" font-size="5.8" textLength="59.80" lengthAdjust="spacingAndGlyphs" fill="#1a1a1a">Low expression (<tspan font-style="italic">n</tspan> = 61)</text>
<text x="73.20" y="293.81" font-size="5.8" textLength="59.00" lengthAdjust="spacingAndGlyphs" fill="#1a1a1a">Median survival = 14.47</text>
<text x="73.20" y="300.31" font-size="5.8" textLength="18.00" lengthAdjust="spacingAndGlyphs" fill="#1a1a1a">months</text>
<line x1="69.60" y1="305.40" x2="71.80" y2="305.40" stroke="#222" stroke-width="1.0"/>
<text x="72.40" y="307.31" font-size="5.8" textLength="62.00" lengthAdjust="spacingAndGlyphs" fill="#1a1a1a">High expression (<tspan font-style="italic">n</tspan> = 19)</text>
<text x="72.40" y="313.71" font-size="5.8" textLength="59.80" lengthAdjust="spacingAndGlyphs" fill="#1a1a1a">Median survival = 25.13</text>
<text x="72.40" y="320.51" font-size="5.8" textLength="18.00" lengthAdjust="spacingAndGlyphs" fill="#1a1a1a">months</text>
<text x="73.20" y="351.41" font-size="5.8" textLength="24.80" lengthAdjust="spacingAndGlyphs" fill="#1a1a1a"><tspan font-style="italic">P</tspan> = 0.003</text>
<text x="143.40" y="279.80" font-size="12.0" font-weight="bold">J</text>
<line x1="165.60" y1="276.60" x2="165.60" y2="364.60" stroke="#333" stroke-width="1.0"/>
<line x1="164.10" y1="277.10" x2="165.60" y2="277.10" stroke="#222" stroke-width="0.7"/>
<text x="164.00" y="279.22" font-size="5.9" font-weight="bold" text-anchor="end" fill="#1a1a1a">100</text>
<line x1="164.10" y1="294.60" x2="165.60" y2="294.60" stroke="#222" stroke-width="0.7"/>
<text x="164.00" y="296.72" font-size="5.9" font-weight="bold" text-anchor="end" fill="#1a1a1a">80</text>
<line x1="164.10" y1="312.10" x2="165.60" y2="312.10" stroke="#222" stroke-width="0.7"/>
<text x="164.00" y="314.22" font-size="5.9" font-weight="bold" text-anchor="end" fill="#1a1a1a">60</text>
<line x1="164.10" y1="329.60" x2="165.60" y2="329.60" stroke="#222" stroke-width="0.7"/>
<text x="164.00" y="331.72" font-size="5.9" font-weight="bold" text-anchor="end" fill="#1a1a1a">40</text>
<line x1="164.10" y1="347.10" x2="165.60" y2="347.10" stroke="#222" stroke-width="0.7"/>
<text x="164.00" y="349.22" font-size="5.9" font-weight="bold" text-anchor="end" fill="#1a1a1a">20</text>
<line x1="164.10" y1="364.60" x2="165.60" y2="364.60" stroke="#222" stroke-width="0.7"/>
<text x="164.00" y="366.72" font-size="5.9" font-weight="bold" text-anchor="end" fill="#1a1a1a">0</text>
<line x1="165.60" y1="364.60" x2="241.70" y2="364.60" stroke="#222" stroke-width="1.0"/>
<line x1="165.50" y1="364.60" x2="165.50" y2="366.10" stroke="#222" stroke-width="0.7"/>
<text x="165.50" y="372.12" font-size="5.9" font-weight="bold" text-anchor="middle" fill="#1a1a1a">0</text>
<line x1="178.30" y1="364.60" x2="178.30" y2="366.10" stroke="#222" stroke-width="0.7"/>
<text x="178.30" y="372.12" font-size="5.9" font-weight="bold" text-anchor="middle" fill="#1a1a1a">10</text>
<line x1="191.10" y1="364.60" x2="191.10" y2="366.10" stroke="#222" stroke-width="0.7"/>
<text x="191.10" y="372.12" font-size="5.9" font-weight="bold" text-anchor="middle" fill="#1a1a1a">20</text>
<line x1="203.90" y1="364.60" x2="203.90" y2="366.10" stroke="#222" stroke-width="0.7"/>
<text x="203.90" y="372.12" font-size="5.9" font-weight="bold" text-anchor="middle" fill="#1a1a1a">30</text>
<line x1="216.70" y1="364.60" x2="216.70" y2="366.10" stroke="#222" stroke-width="0.7"/>
<text x="216.70" y="372.12" font-size="5.9" font-weight="bold" text-anchor="middle" fill="#1a1a1a">40</text>
<line x1="229.50" y1="364.60" x2="229.50" y2="366.10" stroke="#222" stroke-width="0.7"/>
<text x="229.50" y="372.12" font-size="5.9" font-weight="bold" text-anchor="middle" fill="#1a1a1a">50</text>
<line x1="242.30" y1="364.60" x2="242.30" y2="366.10" stroke="#222" stroke-width="0.7"/>
<text x="242.30" y="372.12" font-size="5.9" font-weight="bold" text-anchor="middle" fill="#1a1a1a">60</text>
<text x="154.20" y="337.60" font-size="6.0" font-weight="bold" textLength="43.60" lengthAdjust="spacingAndGlyphs" fill="#1a1a1a" transform="rotate(-90 154.20 337.60)">Percent survival</text>
<text x="171.30" y="378.78" font-size="6.0" font-weight="bold" textLength="67.00" lengthAdjust="spacingAndGlyphs" fill="#1a1a1a">Overall survival (months)</text>
<path d="M165.60 277.10 L171.00 277.10 L171.00 287.50 L181.90 287.50 L181.90 326.00 L187.40 326.00 L187.40 364.60" stroke="#c4c4c4" stroke-width="1.1" fill="none" stroke-linejoin="miter"/>
<path d="M165.60 277.10 L168.70 277.10 L168.70 279.30 L190.20 279.30 L190.20 321.90 L233.40 321.90" stroke="#222" stroke-width="1.1" fill="none" stroke-linejoin="miter"/>
<text x="194.80" y="277.85" font-size="5.6" font-weight="bold" textLength="36.00" lengthAdjust="spacingAndGlyphs" fill="#222">Indian cohort</text>
<line x1="194.80" y1="278.75" x2="230.80" y2="278.75" stroke="#222" stroke-width="0.6"/>
<line x1="199.00" y1="285.80" x2="201.00" y2="285.80" stroke="#aaa" stroke-width="0.8"/>
<text x="203.00" y="287.71" font-size="5.8" textLength="60.60" lengthAdjust="spacingAndGlyphs" fill="#1a1a1a">Low expression (<tspan font-style="italic">n</tspan> = 11)</text>
<text x="203.00" y="294.41" font-size="5.8" textLength="56.00" lengthAdjust="spacingAndGlyphs" fill="#1a1a1a">Median survival = 13.1</text>
<text x="203.00" y="300.81" font-size="5.8" textLength="18.00" lengthAdjust="spacingAndGlyphs" fill="#1a1a1a">months</text>
<line x1="199.40" y1="305.20" x2="201.60" y2="305.20" stroke="#222" stroke-width="1.0"/>
<text x="203.00" y="307.11" font-size="5.8" textLength="62.20" lengthAdjust="spacingAndGlyphs" fill="#1a1a1a">High expression (<tspan font-style="italic">n</tspan> = 27)</text>
<text x="203.00" y="313.91" font-size="5.8" textLength="59.80" lengthAdjust="spacingAndGlyphs" fill="#1a1a1a">Median survival = 19.43</text>
<text x="203.00" y="320.31" font-size="5.8" textLength="18.00" lengthAdjust="spacingAndGlyphs" fill="#1a1a1a">months</text>
<text x="203.40" y="351.51" font-size="5.8" textLength="24.80" lengthAdjust="spacingAndGlyphs" fill="#1a1a1a"><tspan font-style="italic">P</tspan> = 0.006</text>
<text x="273.60" y="279.80" font-size="12.0" font-weight="bold">K</text>
<line x1="286.60" y1="287.30" x2="286.60" y2="353.50" stroke="#222" stroke-width="0.9"/>
<line x1="285.20" y1="288.00" x2="286.60" y2="288.00" stroke="#222" stroke-width="0.7"/>
<text x="285.00" y="289.80" font-size="5.0" font-weight="bold" text-anchor="end" fill="#222">2</text>
<line x1="285.20" y1="301.06" x2="286.60" y2="301.06" stroke="#222" stroke-width="0.7"/>
<text x="285.00" y="302.86" font-size="5.0" font-weight="bold" text-anchor="end" fill="#222">1</text>
<line x1="285.20" y1="314.12" x2="286.60" y2="314.12" stroke="#222" stroke-width="0.7"/>
<text x="285.00" y="315.92" font-size="5.0" font-weight="bold" text-anchor="end" fill="#222">0</text>
<line x1="285.20" y1="327.18" x2="286.60" y2="327.18" stroke="#222" stroke-width="0.7"/>
<text x="285.00" y="328.98" font-size="5.0" font-weight="bold" text-anchor="end" fill="#222">-1</text>
<line x1="285.20" y1="340.24" x2="286.60" y2="340.24" stroke="#222" stroke-width="0.7"/>
<text x="285.00" y="342.04" font-size="5.0" font-weight="bold" text-anchor="end" fill="#222">-2</text>
<line x1="285.20" y1="353.30" x2="286.60" y2="353.30" stroke="#222" stroke-width="0.7"/>
<text x="285.00" y="355.10" font-size="5.0" font-weight="bold" text-anchor="end" fill="#222">-3</text>
<text x="276.6" y="333.4" font-size="5.6" font-weight="bold" fill="#222" transform="rotate(-90 276.6 333.4)">Log<tspan font-size="3.8" dy="1.3">2</tspan><tspan dy="-1.3"> ratio</tspan></text>
<line x1="286.60" y1="313.50" x2="378.90" y2="313.50" stroke="#222" stroke-width="1.0"/>
<rect x="290.20" y="300.40" width="5.40" height="13.10" fill="#0d0d0d"/>
<line x1="292.90" y1="300.40" x2="292.90" y2="299.30" stroke="#222" stroke-width="0.7"/>
<line x1="291.90" y1="299.30" x2="293.90" y2="299.30" stroke="#222" stroke-width="0.7"/>
<rect x="303.40" y="295.70" width="5.40" height="17.80" fill="#0d0d0d"/>
<line x1="306.10" y1="295.70" x2="306.10" y2="294.30" stroke="#222" stroke-width="0.7"/>
<line x1="305.10" y1="294.30" x2="307.10" y2="294.30" stroke="#222" stroke-width="0.7"/>
<rect x="316.70" y="313.50" width="4.80" height="14.20" fill="#0d0d0d"/>
<line x1="319.10" y1="327.70" x2="319.10" y2="332.30" stroke="#222" stroke-width="0.7"/>
<line x1="318.10" y1="332.30" x2="320.10" y2="332.30" stroke="#222" stroke-width="0.7"/>
<rect x="330.20" y="301.50" width="4.70" height="12.00" fill="#0d0d0d"/>
<line x1="332.55" y1="301.50" x2="332.55" y2="298.90" stroke="#222" stroke-width="0.7"/>
<line x1="331.55" y1="298.90" x2="333.55" y2="298.90" stroke="#222" stroke-width="0.7"/>
<rect x="356.30" y="313.50" width="4.70" height="31.90" fill="#0d0d0d"/>
<line x1="358.65" y1="345.40" x2="358.65" y2="349.60" stroke="#222" stroke-width="0.7"/>
<line x1="357.65" y1="349.60" x2="359.65" y2="349.60" stroke="#222" stroke-width="0.7"/>
<rect x="369.20" y="313.50" width="5.20" height="29.50" fill="#0d0d0d"/>
<line x1="371.80" y1="343.00" x2="371.80" y2="348.60" stroke="#222" stroke-width="0.7"/>
<line x1="370.80" y1="348.60" x2="372.80" y2="348.60" stroke="#222" stroke-width="0.7"/>
<line x1="345.20" y1="309.70" x2="345.20" y2="319.30" stroke="#333" stroke-width="0.7"/>
<line x1="344.20" y1="309.70" x2="346.20" y2="309.70" stroke="#333" stroke-width="0.7"/>
<line x1="344.20" y1="319.30" x2="346.20" y2="319.30" stroke="#333" stroke-width="0.7"/>
<rect x="343.20" y="313.30" width="4.20" height="1.40" fill="#222"/>
<path d="M292.00 291.40 L292.00 284.40 L306.50 284.40 L306.50 291.40" stroke="#6a6a6a" stroke-width="0.9" fill="none" stroke-linejoin="miter"/>
<path d="M299.50 284.40 L299.50 280.20 L345.50 280.20 L345.50 296.00" stroke="#444" stroke-width="0.9" fill="none" stroke-linejoin="miter"/>
<path d="M318.90 303.00 L318.90 296.50 L371.60 296.50 L371.60 303.00" stroke="#555" stroke-width="0.9" fill="none" stroke-linejoin="miter"/>
<text x="323.60" y="280.60" font-size="6.0" font-weight="bold" text-anchor="middle">***</text>
<text x="295.10" y="363.50" font-size="5.7" font-weight="bold" fill="#1a1a1a" transform="rotate(-90 295.10 363.50)">IHA</text>
<text x="307.70" y="363.50" font-size="5.7" font-weight="bold" fill="#1a1a1a" transform="rotate(-90 307.70 363.50)">SVG</text>
<text x="320.70" y="363.50" font-size="5.7" font-weight="bold" fill="#1a1a1a" transform="rotate(-90 320.70 363.50)">U87</text>
<text x="332.90" y="363.50" font-size="5.7" font-weight="bold" fill="#1a1a1a" transform="rotate(-90 332.90 363.50)">LN229</text>
<text x="346.70" y="363.50" font-size="5.7" font-weight="bold" fill="#1a1a1a" transform="rotate(-90 346.70 363.50)">T98G</text>
<text x="359.30" y="363.50" font-size="5.7" font-weight="bold" fill="#1a1a1a" transform="rotate(-90 359.30 363.50)">U373</text>
<text x="373.00" y="363.50" font-size="5.7" font-weight="bold" fill="#1a1a1a" transform="rotate(-90 373.00 363.50)">U343</text>
<line x1="290.60" y1="365.50" x2="309.00" y2="365.50" stroke="#222" stroke-width="0.9"/>
<line x1="317.10" y1="365.50" x2="373.50" y2="365.50" stroke="#222" stroke-width="0.9"/>
<text x="284.20" y="372.65" font-size="5.6" font-weight="bold" textLength="30.00" lengthAdjust="spacingAndGlyphs" fill="#1a1a1a">Immortalized</text>
<text x="279.60" y="378.85" font-size="5.6" font-weight="bold" textLength="42.70" lengthAdjust="spacingAndGlyphs" fill="#1a1a1a">astrocytic cell line</text>
<text x="332.10" y="372.65" font-size="5.6" font-weight="bold" textLength="35.30" lengthAdjust="spacingAndGlyphs" fill="#1a1a1a">GBM cell line</text>
<text x="390.20" y="279.80" font-size="12.0" font-weight="bold">L</text>
<text x="405.00" y="296.88" font-size="5.4" font-weight="bold" textLength="34.70" lengthAdjust="spacingAndGlyphs" fill="#222">Immortalized</text>
<text x="405.00" y="303.58" font-size="5.4" font-weight="bold" textLength="37.00" lengthAdjust="spacingAndGlyphs" fill="#222">astrocytic cell</text>
<text x="416.80" y="310.28" font-size="5.4" font-weight="bold" textLength="9.90" lengthAdjust="spacingAndGlyphs" fill="#222">line</text>
<text x="450.60" y="307.98" font-size="5.4" font-weight="bold" textLength="35.20" lengthAdjust="spacingAndGlyphs" fill="#222">GBM cell line</text>
<line x1="413.20" y1="313.50" x2="428.80" y2="313.50" stroke="#222" stroke-width="1.0"/>
<line x1="433.90" y1="313.50" x2="487.80" y2="313.50" stroke="#222" stroke-width="1.0"/>
<text x="417.00" y="331.30" font-size="5.4" font-weight="bold" fill="#222" transform="rotate(-90 417.00 331.30)">IHA</text>
<text x="428.00" y="331.30" font-size="5.4" font-weight="bold" fill="#222" transform="rotate(-90 428.00 331.30)">SVG</text>
<text x="440.50" y="331.30" font-size="5.4" font-weight="bold" fill="#222" transform="rotate(-90 440.50 331.30)">U87</text>
<text x="452.90" y="331.30" font-size="5.4" font-weight="bold" fill="#222" transform="rotate(-90 452.90 331.30)">LN229</text>
<text x="464.10" y="331.30" font-size="5.4" font-weight="bold" fill="#222" transform="rotate(-90 464.10 331.30)">T98G</text>
<text x="475.30" y="331.30" font-size="5.4" font-weight="bold" fill="#222" transform="rotate(-90 475.30 331.30)">U373</text>
<text x="486.90" y="331.30" font-size="5.4" font-weight="bold" fill="#222" transform="rotate(-90 486.90 331.30)">U343</text>
<defs><linearGradient id="g1" x1="0" y1="0" x2="0" y2="1"><stop offset="0" stop-color="#f2f2f2"/><stop offset="1" stop-color="#ececec"/></linearGradient><linearGradient id="g2" x1="0" y1="0" x2="0" y2="1"><stop offset="0" stop-color="#d4d4d4"/><stop offset="1" stop-color="#dedede"/></linearGradient><filter id="bl" x="-20%" y="-50%" width="140%" height="200%"><feGaussianBlur stdDeviation="0.6"/></filter></defs>
<rect x="405.90" y="333.70" width="89.20" height="19.90" fill="url(#g1)" stroke="#3a3a3a" stroke-width="0.9"/>
<rect x="405.90" y="356.70" width="89.20" height="19.00" fill="url(#g2)" stroke="#3a3a3a" stroke-width="0.9"/>
<g filter="url(#bl)"><path d="M410.40 341.00 L415.50 340.10 Q417.10 341.85 415.50 343.60 L410.40 343.00 Q408.80 342.00 410.40 341.00 Z" fill="#080808"/><path d="M415.00 340.00 L422.00 339.50 Q423.60 341.80 422.00 344.10 L415.00 343.70 Q413.40 341.85 415.00 340.00 Z" fill="#080808"/><path d="M421.60 339.30 L432.60 339.40 Q434.20 341.90 432.60 344.40 L421.60 344.30 Q420.00 341.80 421.60 339.30 Z" fill="#080808"/><path d="M434.30 341.40 L443.40 341.50 Q445.00 342.25 443.40 343.00 L434.30 343.00 Q432.70 342.20 434.30 341.40 Z" fill="#7a7a7a"/><path d="M446.00 342.50 L454.60 342.20 Q456.20 343.45 454.60 344.70 L446.00 344.30 Q444.40 343.40 446.00 342.50 Z" fill="#141414"/><path d="M457.00 343.20 L466.70 342.80 Q468.30 343.65 466.70 344.50 L457.00 344.30 Q455.40 343.75 457.00 343.20 Z" fill="#2e2e2e"/><path d="M471.20 344.20 L476.40 344.20 Q478.00 344.70 476.40 345.20 L471.20 345.20 Q469.60 344.70 471.20 344.20 Z" fill="#a8a8a8"/><path d="M481.00 344.90 L488.00 344.90 Q489.60 345.50 488.00 346.10 L481.00 346.10 Q479.40 345.50 481.00 344.90 Z" fill="#8a8a8a"/><path d="M411.20 362.90 L422.20 362.90 Q423.80 364.30 422.20 365.70 L411.20 365.70 Q409.60 364.30 411.20 362.90 Z" fill="#0e0e0e"/><path d="M423.80 362.90 L434.80 362.90 Q436.40 364.30 434.80 365.70 L423.80 365.70 Q422.20 364.30 423.80 362.90 Z" fill="#262626"/><path d="M436.20 362.90 L445.50 362.90 Q447.10 364.30 445.50 365.70 L436.20 365.70 Q434.60 364.30 436.20 362.90 Z" fill="#181818"/><path d="M447.80 362.90 L457.20 362.90 Q458.80 364.30 457.20 365.70 L447.80 365.70 Q446.20 364.30 447.80 362.90 Z" fill="#363636"/><path d="M458.80 362.90 L468.40 362.90 Q470.00 364.30 468.40 365.70 L458.80 365.70 Q457.20 364.30 458.80 362.90 Z" fill="#5e5e5e"/><path d="M470.40 362.90 L479.80 362.90 Q481.40 364.30 479.80 365.70 L470.40 365.70 Q468.80 364.30 470.40 362.90 Z" fill="#202020"/><path d="M481.40 362.90 L492.00 362.90 Q493.60 364.30 492.00 365.70 L481.40 365.70 Q479.80 364.30 481.40 362.90 Z" fill="#181818"/></g>
<text x="497.00" y="346.15" font-size="5.6" font-weight="bold" textLength="20.30" lengthAdjust="spacingAndGlyphs">CALCR</text>
<text x="497.50" y="368.45" font-size="5.6" font-weight="bold" textLength="14.50" lengthAdjust="spacingAndGlyphs">Actin</text>
</svg>
</body></html>
